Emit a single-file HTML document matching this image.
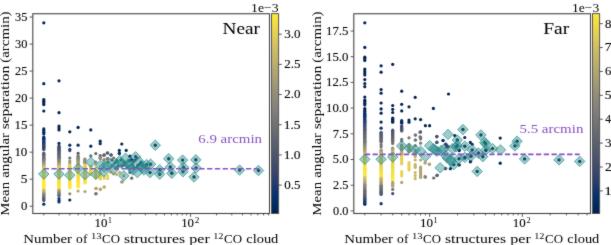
<!DOCTYPE html>
<html><head><meta charset="utf-8"><style>html,body{margin:0;padding:0;background:#fff;width:611px;height:245px;overflow:hidden}svg{display:block;will-change:transform}</style></head>
<body>
<svg width="611" height="245" viewBox="0 0 611 245" font-family="&apos;Liberation Serif&apos;, serif" style="font-kerning:none">
<rect width="611" height="245" fill="#fff"/>
<defs><filter id="bl" filterUnits="userSpaceOnUse" x="0" y="0" width="611" height="245" color-interpolation-filters="sRGB"><feConvolveMatrix order="3" kernelMatrix="1 2 1 2 24 2 1 2 1" edgeMode="duplicate"/></filter></defs>
<g filter="url(#bl)">
<g>
<circle cx="43.8" cy="22.8" r="1.6" fill="#00224e"/>
<circle cx="43.8" cy="83.7" r="1.6" fill="#00224e"/>
<circle cx="43.8" cy="111.0" r="1.6" fill="#00224e"/>
<circle cx="43.8" cy="99.5" r="1.6" fill="#00224e"/>
<circle cx="43.8" cy="101.2" r="1.6" fill="#00224e"/>
<circle cx="43.8" cy="102.9" r="1.6" fill="#00224e"/>
<circle cx="43.8" cy="104.6" r="1.6" fill="#00224e"/>
<circle cx="43.8" cy="128.9" r="1.6" fill="#002656"/>
<circle cx="43.8" cy="130.6" r="1.6" fill="#002656"/>
<circle cx="43.8" cy="132.3" r="1.6" fill="#002656"/>
<circle cx="43.8" cy="134.0" r="1.6" fill="#002656"/>
<circle cx="43.8" cy="204.2" r="1.6" fill="#002d68"/>
<circle cx="59.0" cy="80.8" r="1.6" fill="#00224e"/>
<circle cx="59.0" cy="112.7" r="1.6" fill="#00224e"/>
<circle cx="59.0" cy="126.0" r="1.6" fill="#00224e"/>
<circle cx="59.0" cy="128.0" r="1.6" fill="#00224e"/>
<circle cx="59.0" cy="130.0" r="1.6" fill="#00224e"/>
<circle cx="59.0" cy="143.4" r="1.6" fill="#002b62"/>
<circle cx="59.0" cy="198.5" r="1.6" fill="#083370"/>
<circle cx="59.0" cy="200.5" r="1.6" fill="#083370"/>
<circle cx="59.0" cy="202.0" r="1.6" fill="#083370"/>
<circle cx="69.8" cy="131.8" r="1.6" fill="#00224e"/>
<circle cx="69.8" cy="145.2" r="1.6" fill="#002b62"/>
<circle cx="69.8" cy="149.3" r="1.6" fill="#35456c"/>
<circle cx="69.8" cy="150.6" r="1.6" fill="#35456c"/>
<circle cx="69.8" cy="158.0" r="1.6" fill="#6b6d72"/>
<circle cx="69.8" cy="161.0" r="1.6" fill="#999277"/>
<circle cx="69.8" cy="163.0" r="1.6" fill="#999277"/>
<circle cx="69.8" cy="193.8" r="1.6" fill="#948e77"/>
<circle cx="69.8" cy="200.0" r="1.6" fill="#002b62"/>
<circle cx="78.1" cy="127.4" r="1.6" fill="#00224e"/>
<circle cx="78.1" cy="145.2" r="1.6" fill="#002b62"/>
<circle cx="78.1" cy="153.3" r="1.6" fill="#4f576c"/>
<circle cx="78.1" cy="191.0" r="1.6" fill="#aea371"/>
<circle cx="85.0" cy="159.2" r="1.6" fill="#888578"/>
<circle cx="85.0" cy="161.0" r="1.6" fill="#9e9676"/>
<circle cx="85.0" cy="163.0" r="1.6" fill="#9e9676"/>
<circle cx="85.0" cy="191.5" r="1.6" fill="#aea371"/>
<circle cx="90.8" cy="129.9" r="1.6" fill="#00224e"/>
<circle cx="90.8" cy="146.2" r="1.6" fill="#002b62"/>
<circle cx="90.8" cy="155.9" r="1.6" fill="#666970"/>
<circle cx="95.8" cy="153.6" r="1.6" fill="#666970"/>
<circle cx="95.8" cy="162.0" r="1.6" fill="#727274"/>
<circle cx="95.8" cy="163.1" r="1.6" fill="#aea371"/>
<circle cx="95.8" cy="188.4" r="1.6" fill="#bcae6c"/>
<circle cx="95.8" cy="193.8" r="1.6" fill="#727274"/>
<circle cx="100.2" cy="141.2" r="1.6" fill="#002b62"/>
<circle cx="100.2" cy="143.7" r="1.6" fill="#002b62"/>
<circle cx="100.2" cy="155.5" r="1.6" fill="#666970"/>
<circle cx="100.2" cy="157.5" r="1.6" fill="#666970"/>
<circle cx="100.2" cy="158.4" r="1.6" fill="#727274"/>
<circle cx="100.2" cy="189.4" r="1.6" fill="#b4a76f"/>
<circle cx="104.2" cy="154.9" r="1.6" fill="#666970"/>
<circle cx="104.2" cy="159.5" r="1.6" fill="#7d7c78"/>
<circle cx="104.2" cy="160.3" r="1.6" fill="#948e77"/>
<circle cx="104.2" cy="176.5" r="1.6" fill="#e5cf52"/>
<circle cx="104.2" cy="178.2" r="1.6" fill="#e5cf52"/>
<circle cx="104.2" cy="187.2" r="1.6" fill="#c3b369"/>
<circle cx="107.7" cy="153.0" r="1.6" fill="#5b606e"/>
<circle cx="107.7" cy="158.6" r="1.6" fill="#7d7c78"/>
<circle cx="107.7" cy="175.8" r="1.6" fill="#e5cf52"/>
<circle cx="107.7" cy="178.5" r="1.6" fill="#e5cf52"/>
<circle cx="111.0" cy="155.0" r="1.6" fill="#4f576c"/>
<circle cx="111.0" cy="172.2" r="1.6" fill="#cebc63"/>
<circle cx="121.8" cy="144.0" r="1.6" fill="#00224e"/>
<circle cx="119.3" cy="150.4" r="1.6" fill="#002859"/>
<circle cx="126.2" cy="150.4" r="1.6" fill="#002859"/>
<circle cx="119.3" cy="153.7" r="1.6" fill="#434e6c"/>
<circle cx="104.4" cy="154.8" r="1.6" fill="#666970"/>
<circle cx="111.2" cy="154.8" r="1.6" fill="#666970"/>
<circle cx="119.3" cy="153.5" r="1.6" fill="#4f576c"/>
<circle cx="129.9" cy="156.7" r="1.6" fill="#666970"/>
<circle cx="116.6" cy="174.3" r="1.6" fill="#bcae6c"/>
<circle cx="119.6" cy="172.4" r="1.6" fill="#bcae6c"/>
<circle cx="121.7" cy="182.0" r="1.6" fill="#a19975"/>
<circle cx="122.2" cy="181.8" r="1.6" fill="#a19975"/>
<circle cx="96.2" cy="188.4" r="1.6" fill="#aea371"/>
<circle cx="100.4" cy="189.1" r="1.6" fill="#b4a76f"/>
<circle cx="104.2" cy="186.8" r="1.6" fill="#bcae6c"/>
<circle cx="131.7" cy="178.2" r="1.6" fill="#666970"/>
<circle cx="96.0" cy="193.7" r="1.6" fill="#727274"/>
<circle cx="129.9" cy="172.4" r="1.6" fill="#666970"/>
<circle cx="84.5" cy="159.9" r="1.6" fill="#948e77"/>
<circle cx="84.5" cy="162.3" r="1.6" fill="#999277"/>
<circle cx="95.6" cy="163.1" r="1.6" fill="#bcae6c"/>
<circle cx="107.9" cy="158.6" r="1.6" fill="#888578"/>
<circle cx="113.7" cy="158.0" r="1.6" fill="#727274"/>
<circle cx="116.5" cy="160.0" r="1.6" fill="#727274"/>
<circle cx="135.6" cy="156.6" r="1.6" fill="#00224e"/>
<circle cx="129.9" cy="156.2" r="1.6" fill="#002b62"/>
<circle cx="129.9" cy="160.3" r="1.6" fill="#083370"/>
<circle cx="131.9" cy="159.5" r="1.6" fill="#083370"/>
<circle cx="119.4" cy="153.3" r="1.6" fill="#083370"/>
<circle cx="107.4" cy="152.9" r="1.6" fill="#4f576c"/>
<circle cx="111.0" cy="155.0" r="1.6" fill="#4f576c"/>
<circle cx="103.7" cy="155.4" r="1.6" fill="#666970"/>
<circle cx="100.4" cy="158.2" r="1.6" fill="#948e77"/>
<circle cx="103.7" cy="160.3" r="1.6" fill="#948e77"/>
<circle cx="107.4" cy="158.6" r="1.6" fill="#7d7c78"/>
<circle cx="138.0" cy="165.0" r="1.6" fill="#083370"/>
<circle cx="141.0" cy="162.0" r="1.6" fill="#083370"/>
<circle cx="124.0" cy="165.0" r="1.6" fill="#35456c"/>
<circle cx="116.0" cy="168.0" r="1.6" fill="#4f576c"/>
<circle cx="112.0" cy="166.0" r="1.6" fill="#666970"/>
<circle cx="108.0" cy="162.0" r="1.6" fill="#4f576c"/>
<circle cx="112.0" cy="160.0" r="1.6" fill="#434e6c"/>
<circle cx="115.0" cy="163.0" r="1.6" fill="#4f576c"/>
<circle cx="118.0" cy="166.0" r="1.6" fill="#434e6c"/>
<circle cx="121.0" cy="160.0" r="1.6" fill="#35456c"/>
<circle cx="124.0" cy="162.0" r="1.6" fill="#35456c"/>
<circle cx="127.0" cy="167.0" r="1.6" fill="#434e6c"/>
<circle cx="129.0" cy="161.0" r="1.6" fill="#243c6e"/>
<circle cx="132.0" cy="165.0" r="1.6" fill="#35456c"/>
<circle cx="135.0" cy="160.0" r="1.6" fill="#243c6e"/>
<circle cx="137.0" cy="167.0" r="1.6" fill="#35456c"/>
<circle cx="140.0" cy="164.0" r="1.6" fill="#243c6e"/>
<circle cx="143.0" cy="166.0" r="1.6" fill="#35456c"/>
<circle cx="146.0" cy="168.0" r="1.6" fill="#35456c"/>
<circle cx="117.0" cy="161.0" r="1.6" fill="#4f576c"/>
<circle cx="122.0" cy="166.0" r="1.6" fill="#4f576c"/>
<circle cx="126.0" cy="163.0" r="1.6" fill="#35456c"/>
<circle cx="134.0" cy="168.0" r="1.6" fill="#434e6c"/>
<circle cx="110.7" cy="172.0" r="1.6" fill="#c8b866"/>
<circle cx="113.7" cy="174.0" r="1.6" fill="#c8b866"/>
<circle cx="123.8" cy="175.8" r="1.6" fill="#aea371"/>
<circle cx="128.0" cy="166.0" r="1.6" fill="#727274"/>
<circle cx="133.5" cy="162.0" r="1.6" fill="#4f576c"/>
<circle cx="136.8" cy="158.0" r="1.6" fill="#35456c"/>
<circle cx="43.8" cy="137.0" r="1.6" fill="#002d68"/>
<circle cx="43.8" cy="137.8" r="1.6" fill="#002e6c"/>
<circle cx="43.8" cy="138.6" r="1.6" fill="#00306f"/>
<circle cx="43.8" cy="139.3" r="1.6" fill="#003171"/>
<circle cx="43.8" cy="140.1" r="1.6" fill="#053371"/>
<circle cx="43.8" cy="140.9" r="1.6" fill="#0c3470"/>
<circle cx="43.8" cy="141.7" r="1.6" fill="#123570"/>
<circle cx="43.8" cy="142.5" r="1.6" fill="#18376f"/>
<circle cx="43.8" cy="143.2" r="1.6" fill="#1c396f"/>
<circle cx="43.8" cy="144.0" r="1.6" fill="#203a6f"/>
<circle cx="43.8" cy="144.8" r="1.6" fill="#233c6e"/>
<circle cx="43.8" cy="145.6" r="1.6" fill="#273e6e"/>
<circle cx="43.8" cy="146.4" r="1.6" fill="#2a3f6d"/>
<circle cx="43.8" cy="147.2" r="1.6" fill="#2d416d"/>
<circle cx="43.8" cy="147.9" r="1.6" fill="#2f426d"/>
<circle cx="43.8" cy="148.7" r="1.6" fill="#32436d"/>
<circle cx="43.8" cy="149.5" r="1.6" fill="#35456c"/>
<circle cx="43.8" cy="153.0" r="1.6" fill="#4f576c"/>
<circle cx="43.8" cy="153.8" r="1.6" fill="#545a6d"/>
<circle cx="43.8" cy="154.6" r="1.6" fill="#575d6d"/>
<circle cx="43.8" cy="155.3" r="1.6" fill="#5b606e"/>
<circle cx="43.8" cy="156.1" r="1.6" fill="#5e636f"/>
<circle cx="43.8" cy="156.9" r="1.6" fill="#636670"/>
<circle cx="43.8" cy="157.7" r="1.6" fill="#666970"/>
<circle cx="43.8" cy="158.4" r="1.6" fill="#6a6c71"/>
<circle cx="43.8" cy="159.2" r="1.6" fill="#6d6f72"/>
<circle cx="43.8" cy="160.0" r="1.6" fill="#727274"/>
<circle cx="43.8" cy="160.0" r="1.6" fill="#727274"/>
<circle cx="43.8" cy="160.8" r="1.6" fill="#797977"/>
<circle cx="43.8" cy="161.6" r="1.6" fill="#817f78"/>
<circle cx="43.8" cy="162.4" r="1.6" fill="#8a8678"/>
<circle cx="43.8" cy="163.2" r="1.6" fill="#928d78"/>
<circle cx="43.8" cy="164.0" r="1.6" fill="#9b9476"/>
<circle cx="43.8" cy="164.8" r="1.6" fill="#a39a74"/>
<circle cx="43.8" cy="165.6" r="1.6" fill="#aca172"/>
<circle cx="43.8" cy="166.4" r="1.6" fill="#b6a96f"/>
<circle cx="43.8" cy="167.2" r="1.6" fill="#bfb06b"/>
<circle cx="43.8" cy="168.0" r="1.6" fill="#c8b866"/>
<circle cx="43.8" cy="168.0" r="1.6" fill="#e5cf52"/>
<circle cx="43.8" cy="168.8" r="1.6" fill="#e7d150"/>
<circle cx="43.8" cy="169.7" r="1.6" fill="#e9d34e"/>
<circle cx="43.8" cy="170.5" r="1.6" fill="#ebd44b"/>
<circle cx="43.8" cy="171.3" r="1.6" fill="#eed649"/>
<circle cx="43.8" cy="172.2" r="1.6" fill="#f1d945"/>
<circle cx="43.8" cy="173.0" r="1.6" fill="#f3db42"/>
<circle cx="43.8" cy="173.8" r="1.6" fill="#f6dd3f"/>
<circle cx="43.8" cy="174.7" r="1.6" fill="#f8df3c"/>
<circle cx="43.8" cy="175.5" r="1.6" fill="#fbe138"/>
<circle cx="43.8" cy="176.3" r="1.6" fill="#fde334"/>
<circle cx="43.8" cy="177.2" r="1.6" fill="#fee535"/>
<circle cx="43.8" cy="178.0" r="1.6" fill="#fee838"/>
<circle cx="43.8" cy="178.0" r="1.6" fill="#fee838"/>
<circle cx="43.8" cy="178.8" r="1.6" fill="#fee838"/>
<circle cx="43.8" cy="179.6" r="1.6" fill="#fee838"/>
<circle cx="43.8" cy="180.4" r="1.6" fill="#fee838"/>
<circle cx="43.8" cy="181.2" r="1.6" fill="#fee838"/>
<circle cx="43.8" cy="182.0" r="1.6" fill="#fee838"/>
<circle cx="43.8" cy="182.8" r="1.6" fill="#fee838"/>
<circle cx="43.8" cy="183.6" r="1.6" fill="#fee838"/>
<circle cx="43.8" cy="184.4" r="1.6" fill="#fee838"/>
<circle cx="43.8" cy="185.2" r="1.6" fill="#fee838"/>
<circle cx="43.8" cy="186.0" r="1.6" fill="#fee838"/>
<circle cx="43.8" cy="186.8" r="1.6" fill="#fee838"/>
<circle cx="43.8" cy="187.6" r="1.6" fill="#fee838"/>
<circle cx="43.8" cy="188.4" r="1.6" fill="#fee838"/>
<circle cx="43.8" cy="189.2" r="1.6" fill="#fee838"/>
<circle cx="43.8" cy="190.0" r="1.6" fill="#fee838"/>
<circle cx="43.8" cy="190.0" r="1.6" fill="#d6c35d"/>
<circle cx="43.8" cy="190.8" r="1.6" fill="#ccba64"/>
<circle cx="43.8" cy="191.6" r="1.6" fill="#c1b26a"/>
<circle cx="43.8" cy="192.4" r="1.6" fill="#b6a96f"/>
<circle cx="43.8" cy="193.2" r="1.6" fill="#aba072"/>
<circle cx="43.8" cy="194.0" r="1.6" fill="#a19975"/>
<circle cx="43.8" cy="194.0" r="1.6" fill="#948e77"/>
<circle cx="43.8" cy="194.8" r="1.6" fill="#8c8878"/>
<circle cx="43.8" cy="195.6" r="1.6" fill="#828079"/>
<circle cx="43.8" cy="196.4" r="1.6" fill="#797977"/>
<circle cx="43.8" cy="197.2" r="1.6" fill="#727274"/>
<circle cx="43.8" cy="198.1" r="1.6" fill="#696b71"/>
<circle cx="43.8" cy="198.9" r="1.6" fill="#61656f"/>
<circle cx="43.8" cy="199.7" r="1.6" fill="#585e6d"/>
<circle cx="43.8" cy="200.5" r="1.6" fill="#4f576c"/>
<circle cx="59.0" cy="146.0" r="1.6" fill="#35456c"/>
<circle cx="59.0" cy="146.8" r="1.6" fill="#39486c"/>
<circle cx="59.0" cy="147.6" r="1.6" fill="#3d4a6c"/>
<circle cx="59.0" cy="148.4" r="1.6" fill="#404c6c"/>
<circle cx="59.0" cy="149.2" r="1.6" fill="#434e6c"/>
<circle cx="59.0" cy="150.0" r="1.6" fill="#47516c"/>
<circle cx="59.0" cy="150.8" r="1.6" fill="#4a536c"/>
<circle cx="59.0" cy="151.6" r="1.6" fill="#4e566c"/>
<circle cx="59.0" cy="152.4" r="1.6" fill="#51586d"/>
<circle cx="59.0" cy="153.2" r="1.6" fill="#545a6d"/>
<circle cx="59.0" cy="154.0" r="1.6" fill="#575d6d"/>
<circle cx="59.0" cy="154.8" r="1.6" fill="#5a5f6e"/>
<circle cx="59.0" cy="155.6" r="1.6" fill="#5e626e"/>
<circle cx="59.0" cy="156.4" r="1.6" fill="#60646f"/>
<circle cx="59.0" cy="157.2" r="1.6" fill="#636670"/>
<circle cx="59.0" cy="158.0" r="1.6" fill="#666970"/>
<circle cx="59.0" cy="158.0" r="1.6" fill="#6b6d72"/>
<circle cx="59.0" cy="158.8" r="1.6" fill="#727274"/>
<circle cx="59.0" cy="159.6" r="1.6" fill="#777777"/>
<circle cx="59.0" cy="160.4" r="1.6" fill="#7e7d78"/>
<circle cx="59.0" cy="161.2" r="1.6" fill="#868379"/>
<circle cx="59.0" cy="162.0" r="1.6" fill="#8d8878"/>
<circle cx="59.0" cy="162.8" r="1.6" fill="#948e77"/>
<circle cx="59.0" cy="163.6" r="1.6" fill="#9c9576"/>
<circle cx="59.0" cy="164.4" r="1.6" fill="#a39a74"/>
<circle cx="59.0" cy="165.2" r="1.6" fill="#aba072"/>
<circle cx="59.0" cy="166.0" r="1.6" fill="#b4a76f"/>
<circle cx="59.0" cy="166.0" r="1.6" fill="#d6c35d"/>
<circle cx="59.0" cy="166.8" r="1.6" fill="#d7c45c"/>
<circle cx="59.0" cy="167.6" r="1.6" fill="#dac65b"/>
<circle cx="59.0" cy="168.4" r="1.6" fill="#dbc75a"/>
<circle cx="59.0" cy="169.2" r="1.6" fill="#dcc859"/>
<circle cx="59.0" cy="170.0" r="1.6" fill="#dec958"/>
<circle cx="59.0" cy="170.8" r="1.6" fill="#dfca57"/>
<circle cx="59.0" cy="171.6" r="1.6" fill="#e0cb56"/>
<circle cx="59.0" cy="172.4" r="1.6" fill="#e1cc55"/>
<circle cx="59.0" cy="173.2" r="1.6" fill="#e4ce53"/>
<circle cx="59.0" cy="174.0" r="1.6" fill="#e5cf52"/>
<circle cx="59.0" cy="174.8" r="1.6" fill="#e6d051"/>
<circle cx="59.0" cy="175.6" r="1.6" fill="#e7d150"/>
<circle cx="59.0" cy="176.4" r="1.6" fill="#e9d34e"/>
<circle cx="59.0" cy="177.2" r="1.6" fill="#ead34c"/>
<circle cx="59.0" cy="178.0" r="1.6" fill="#ebd44b"/>
<circle cx="59.0" cy="178.8" r="1.6" fill="#eed649"/>
<circle cx="59.0" cy="179.6" r="1.6" fill="#efd748"/>
<circle cx="59.0" cy="180.4" r="1.6" fill="#f0d846"/>
<circle cx="59.0" cy="181.2" r="1.6" fill="#f1d945"/>
<circle cx="59.0" cy="182.0" r="1.6" fill="#f3db42"/>
<circle cx="59.0" cy="182.8" r="1.6" fill="#f5dc41"/>
<circle cx="59.0" cy="183.6" r="1.6" fill="#f6dd3f"/>
<circle cx="59.0" cy="184.4" r="1.6" fill="#f8df3c"/>
<circle cx="59.0" cy="185.2" r="1.6" fill="#f9e03a"/>
<circle cx="59.0" cy="186.0" r="1.6" fill="#fbe138"/>
<circle cx="59.0" cy="186.8" r="1.6" fill="#fce236"/>
<circle cx="59.0" cy="187.6" r="1.6" fill="#fee434"/>
<circle cx="59.0" cy="188.4" r="1.6" fill="#fee535"/>
<circle cx="59.0" cy="189.2" r="1.6" fill="#fee636"/>
<circle cx="59.0" cy="190.0" r="1.6" fill="#fee838"/>
<circle cx="59.0" cy="190.0" r="1.6" fill="#bcae6c"/>
<circle cx="59.0" cy="190.8" r="1.6" fill="#afa471"/>
<circle cx="59.0" cy="191.5" r="1.6" fill="#a49b74"/>
<circle cx="59.0" cy="192.2" r="1.6" fill="#999277"/>
<circle cx="59.0" cy="193.0" r="1.6" fill="#8f8a78"/>
<circle cx="59.0" cy="193.8" r="1.6" fill="#848279"/>
<circle cx="59.0" cy="194.5" r="1.6" fill="#797977"/>
<circle cx="59.0" cy="195.2" r="1.6" fill="#707173"/>
<circle cx="59.0" cy="196.0" r="1.6" fill="#666970"/>
<circle cx="69.8" cy="165.0" r="1.6" fill="#dfca57"/>
<circle cx="69.8" cy="165.8" r="1.6" fill="#e0cb56"/>
<circle cx="69.8" cy="166.6" r="1.6" fill="#e1cc55"/>
<circle cx="69.8" cy="167.4" r="1.6" fill="#e2cd54"/>
<circle cx="69.8" cy="168.2" r="1.6" fill="#e4ce53"/>
<circle cx="69.8" cy="169.0" r="1.6" fill="#e5cf52"/>
<circle cx="69.8" cy="169.8" r="1.6" fill="#e6d051"/>
<circle cx="69.8" cy="170.6" r="1.6" fill="#e7d150"/>
<circle cx="69.8" cy="171.3" r="1.6" fill="#e8d24f"/>
<circle cx="69.8" cy="172.1" r="1.6" fill="#e9d34e"/>
<circle cx="69.8" cy="172.9" r="1.6" fill="#ead34c"/>
<circle cx="69.8" cy="173.7" r="1.6" fill="#ebd44b"/>
<circle cx="69.8" cy="174.5" r="1.6" fill="#edd54a"/>
<circle cx="69.8" cy="175.3" r="1.6" fill="#efd748"/>
<circle cx="69.8" cy="176.1" r="1.6" fill="#f0d846"/>
<circle cx="69.8" cy="176.9" r="1.6" fill="#f1d945"/>
<circle cx="69.8" cy="177.7" r="1.6" fill="#f2da44"/>
<circle cx="69.8" cy="178.5" r="1.6" fill="#f3db42"/>
<circle cx="69.8" cy="179.3" r="1.6" fill="#f5dc41"/>
<circle cx="69.8" cy="180.1" r="1.6" fill="#f6dd3f"/>
<circle cx="69.8" cy="180.9" r="1.6" fill="#f7de3e"/>
<circle cx="69.8" cy="181.7" r="1.6" fill="#f8df3c"/>
<circle cx="69.8" cy="182.4" r="1.6" fill="#f9e03a"/>
<circle cx="69.8" cy="183.2" r="1.6" fill="#fbe138"/>
<circle cx="69.8" cy="184.0" r="1.6" fill="#fce236"/>
<circle cx="69.8" cy="184.8" r="1.6" fill="#fde334"/>
<circle cx="69.8" cy="185.6" r="1.6" fill="#fee434"/>
<circle cx="69.8" cy="186.4" r="1.6" fill="#fee535"/>
<circle cx="69.8" cy="187.2" r="1.6" fill="#fee636"/>
<circle cx="69.8" cy="188.0" r="1.6" fill="#fee838"/>
<circle cx="78.1" cy="156.0" r="1.6" fill="#727274"/>
<circle cx="78.1" cy="156.8" r="1.6" fill="#777776"/>
<circle cx="78.1" cy="157.7" r="1.6" fill="#7d7c78"/>
<circle cx="78.1" cy="158.5" r="1.6" fill="#828079"/>
<circle cx="78.1" cy="159.3" r="1.6" fill="#888578"/>
<circle cx="78.1" cy="160.2" r="1.6" fill="#8f8a78"/>
<circle cx="78.1" cy="161.0" r="1.6" fill="#948e77"/>
<circle cx="78.1" cy="161.8" r="1.6" fill="#9b9476"/>
<circle cx="78.1" cy="162.7" r="1.6" fill="#a19975"/>
<circle cx="78.1" cy="163.5" r="1.6" fill="#a79d73"/>
<circle cx="78.1" cy="164.3" r="1.6" fill="#aea371"/>
<circle cx="78.1" cy="165.2" r="1.6" fill="#b5a86f"/>
<circle cx="78.1" cy="166.0" r="1.6" fill="#bcae6c"/>
<circle cx="78.1" cy="166.0" r="1.6" fill="#e5cf52"/>
<circle cx="78.1" cy="166.8" r="1.6" fill="#e6d051"/>
<circle cx="78.1" cy="167.6" r="1.6" fill="#e7d150"/>
<circle cx="78.1" cy="168.4" r="1.6" fill="#e8d24f"/>
<circle cx="78.1" cy="169.2" r="1.6" fill="#e9d34e"/>
<circle cx="78.1" cy="170.0" r="1.6" fill="#ead34c"/>
<circle cx="78.1" cy="170.8" r="1.6" fill="#ebd44b"/>
<circle cx="78.1" cy="171.7" r="1.6" fill="#edd54a"/>
<circle cx="78.1" cy="172.5" r="1.6" fill="#eed649"/>
<circle cx="78.1" cy="173.3" r="1.6" fill="#efd748"/>
<circle cx="78.1" cy="174.1" r="1.6" fill="#f0d846"/>
<circle cx="78.1" cy="174.9" r="1.6" fill="#f1d945"/>
<circle cx="78.1" cy="175.7" r="1.6" fill="#f2da44"/>
<circle cx="78.1" cy="176.5" r="1.6" fill="#f3db42"/>
<circle cx="78.1" cy="177.3" r="1.6" fill="#f5dc41"/>
<circle cx="78.1" cy="178.1" r="1.6" fill="#f6dd3f"/>
<circle cx="78.1" cy="178.9" r="1.6" fill="#f7de3e"/>
<circle cx="78.1" cy="179.7" r="1.6" fill="#f8df3c"/>
<circle cx="78.1" cy="180.5" r="1.6" fill="#f9e03a"/>
<circle cx="78.1" cy="181.3" r="1.6" fill="#fbe138"/>
<circle cx="78.1" cy="182.2" r="1.6" fill="#fce236"/>
<circle cx="78.1" cy="183.0" r="1.6" fill="#fde334"/>
<circle cx="78.1" cy="183.8" r="1.6" fill="#fee434"/>
<circle cx="78.1" cy="184.6" r="1.6" fill="#fee535"/>
<circle cx="78.1" cy="185.4" r="1.6" fill="#fee636"/>
<circle cx="78.1" cy="186.2" r="1.6" fill="#fee838"/>
<circle cx="78.1" cy="187.0" r="1.6" fill="#fee838"/>
<circle cx="85.0" cy="165.0" r="1.6" fill="#dfca57"/>
<circle cx="85.0" cy="165.8" r="1.6" fill="#e0cb56"/>
<circle cx="85.0" cy="166.6" r="1.6" fill="#e1cc55"/>
<circle cx="85.0" cy="167.5" r="1.6" fill="#e2cd54"/>
<circle cx="85.0" cy="168.3" r="1.6" fill="#e4ce53"/>
<circle cx="85.0" cy="169.1" r="1.6" fill="#e6d051"/>
<circle cx="85.0" cy="169.9" r="1.6" fill="#e7d150"/>
<circle cx="85.0" cy="170.7" r="1.6" fill="#e8d24f"/>
<circle cx="85.0" cy="171.5" r="1.6" fill="#e9d34e"/>
<circle cx="85.0" cy="172.4" r="1.6" fill="#ead34c"/>
<circle cx="85.0" cy="173.2" r="1.6" fill="#ebd44b"/>
<circle cx="85.0" cy="174.0" r="1.6" fill="#eed649"/>
<circle cx="85.0" cy="174.8" r="1.6" fill="#efd748"/>
<circle cx="85.0" cy="175.6" r="1.6" fill="#f0d846"/>
<circle cx="85.0" cy="176.5" r="1.6" fill="#f1d945"/>
<circle cx="85.0" cy="177.3" r="1.6" fill="#f2da44"/>
<circle cx="85.0" cy="178.1" r="1.6" fill="#f3db42"/>
<circle cx="85.0" cy="178.9" r="1.6" fill="#f6dd3f"/>
<circle cx="85.0" cy="179.7" r="1.6" fill="#f7de3e"/>
<circle cx="85.0" cy="180.5" r="1.6" fill="#f8df3c"/>
<circle cx="85.0" cy="181.4" r="1.6" fill="#f9e03a"/>
<circle cx="85.0" cy="182.2" r="1.6" fill="#fbe138"/>
<circle cx="85.0" cy="183.0" r="1.6" fill="#fce236"/>
<circle cx="90.8" cy="166.0" r="1.6" fill="#e5cf52"/>
<circle cx="90.8" cy="166.8" r="1.6" fill="#e5cf52"/>
<circle cx="90.8" cy="167.5" r="1.6" fill="#e5cf52"/>
<circle cx="90.8" cy="168.3" r="1.6" fill="#e5cf52"/>
<circle cx="90.8" cy="169.1" r="1.6" fill="#e5cf52"/>
<circle cx="90.8" cy="169.9" r="1.6" fill="#e5cf52"/>
<circle cx="90.8" cy="170.6" r="1.6" fill="#e5cf52"/>
<circle cx="90.8" cy="171.4" r="1.6" fill="#e5cf52"/>
<circle cx="90.8" cy="172.2" r="1.6" fill="#e5cf52"/>
<circle cx="90.8" cy="173.0" r="1.6" fill="#e5cf52"/>
<circle cx="90.8" cy="173.7" r="1.6" fill="#e5cf52"/>
<circle cx="90.8" cy="174.5" r="1.6" fill="#e5cf52"/>
<circle cx="95.8" cy="168.0" r="1.6" fill="#e5cf52"/>
<circle cx="95.8" cy="168.8" r="1.6" fill="#e5cf52"/>
<circle cx="95.8" cy="169.7" r="1.6" fill="#e5cf52"/>
<circle cx="95.8" cy="170.5" r="1.6" fill="#e5cf52"/>
<circle cx="95.8" cy="171.3" r="1.6" fill="#e5cf52"/>
<circle cx="95.8" cy="172.2" r="1.6" fill="#e5cf52"/>
<circle cx="95.8" cy="173.0" r="1.6" fill="#e5cf52"/>
<circle cx="95.8" cy="173.8" r="1.6" fill="#e5cf52"/>
<circle cx="95.8" cy="174.7" r="1.6" fill="#e5cf52"/>
<circle cx="95.8" cy="175.5" r="1.6" fill="#e5cf52"/>
<circle cx="95.8" cy="176.3" r="1.6" fill="#e5cf52"/>
<circle cx="95.8" cy="177.2" r="1.6" fill="#e5cf52"/>
<circle cx="95.8" cy="178.0" r="1.6" fill="#e5cf52"/>
<circle cx="100.2" cy="172.0" r="1.6" fill="#e5cf52"/>
<circle cx="100.2" cy="172.8" r="1.6" fill="#e5cf52"/>
<circle cx="100.2" cy="173.6" r="1.6" fill="#e5cf52"/>
<circle cx="100.2" cy="174.3" r="1.6" fill="#e5cf52"/>
<circle cx="100.2" cy="175.1" r="1.6" fill="#e5cf52"/>
<circle cx="100.2" cy="175.9" r="1.6" fill="#e5cf52"/>
<circle cx="100.2" cy="176.7" r="1.6" fill="#e5cf52"/>
<circle cx="100.2" cy="177.4" r="1.6" fill="#e5cf52"/>
<circle cx="100.2" cy="178.2" r="1.6" fill="#e5cf52"/>
<circle cx="100.2" cy="179.0" r="1.6" fill="#e5cf52"/>
<circle cx="146.6" cy="164.6" r="1.7" fill="#001a40"/>
<circle cx="150.0" cy="172.6" r="1.7" fill="#001a40"/>
<circle cx="150.6" cy="164.2" r="1.7" fill="#001a40"/>
<circle cx="155.3" cy="145.2" r="1.7" fill="#001a40"/>
<circle cx="159.7" cy="169.8" r="1.7" fill="#001a40"/>
<circle cx="159.7" cy="174.2" r="1.7" fill="#001a40"/>
<circle cx="168.7" cy="158.7" r="1.7" fill="#001a40"/>
<circle cx="170.3" cy="167.0" r="1.7" fill="#001a40"/>
<circle cx="171.8" cy="173.3" r="1.7" fill="#001a40"/>
<circle cx="182.6" cy="160.1" r="1.7" fill="#001a40"/>
<circle cx="183.5" cy="167.3" r="1.7" fill="#001a40"/>
<circle cx="183.0" cy="171.7" r="1.7" fill="#001a40"/>
<circle cx="195.8" cy="159.8" r="1.7" fill="#001a40"/>
<circle cx="196.1" cy="167.9" r="1.7" fill="#001a40"/>
<circle cx="194.0" cy="177.0" r="1.7" fill="#001a40"/>
<circle cx="239.6" cy="170.1" r="1.7" fill="#001a40"/>
<circle cx="258.5" cy="170.5" r="1.7" fill="#001a40"/>
</g>
<path d="M43.8 168.8 L49.0 174.0 L43.8 179.2 L38.6 174.0Z" fill="#268c8c" fill-opacity="0.44" stroke="#268c8c" stroke-opacity="0.7" stroke-width="1.0"/>
<path d="M59.0 168.8 L64.2 174.0 L59.0 179.2 L53.8 174.0Z" fill="#268c8c" fill-opacity="0.44" stroke="#268c8c" stroke-opacity="0.7" stroke-width="1.0"/>
<path d="M69.8 170.0 L75.0 175.2 L69.8 180.4 L64.6 175.2Z" fill="#268c8c" fill-opacity="0.44" stroke="#268c8c" stroke-opacity="0.7" stroke-width="1.0"/>
<path d="M78.1 163.3 L83.3 168.5 L78.1 173.7 L72.9 168.5Z" fill="#268c8c" fill-opacity="0.44" stroke="#268c8c" stroke-opacity="0.7" stroke-width="1.0"/>
<path d="M85.0 169.4 L90.2 174.6 L85.0 179.8 L79.8 174.6Z" fill="#268c8c" fill-opacity="0.44" stroke="#268c8c" stroke-opacity="0.7" stroke-width="1.0"/>
<path d="M90.8 157.0 L96.0 162.2 L90.8 167.4 L85.6 162.2Z" fill="#268c8c" fill-opacity="0.44" stroke="#268c8c" stroke-opacity="0.7" stroke-width="1.0"/>
<path d="M95.8 169.1 L101.0 174.3 L95.8 179.5 L90.6 174.3Z" fill="#268c8c" fill-opacity="0.44" stroke="#268c8c" stroke-opacity="0.7" stroke-width="1.0"/>
<path d="M100.2 160.3 L105.4 165.5 L100.2 170.7 L95.0 165.5Z" fill="#268c8c" fill-opacity="0.44" stroke="#268c8c" stroke-opacity="0.7" stroke-width="1.0"/>
<path d="M103.8 166.3 L109.0 171.5 L103.8 176.7 L98.6 171.5Z" fill="#268c8c" fill-opacity="0.44" stroke="#268c8c" stroke-opacity="0.7" stroke-width="1.0"/>
<path d="M104.1 161.8 L109.3 167.0 L104.1 172.2 L98.9 167.0Z" fill="#268c8c" fill-opacity="0.44" stroke="#268c8c" stroke-opacity="0.7" stroke-width="1.0"/>
<path d="M107.2 160.3 L112.4 165.5 L107.2 170.7 L102.0 165.5Z" fill="#268c8c" fill-opacity="0.44" stroke="#268c8c" stroke-opacity="0.7" stroke-width="1.0"/>
<path d="M110.7 158.0 L115.9 163.2 L110.7 168.4 L105.5 163.2Z" fill="#268c8c" fill-opacity="0.44" stroke="#268c8c" stroke-opacity="0.7" stroke-width="1.0"/>
<path d="M113.5 164.3 L118.7 169.5 L113.5 174.7 L108.3 169.5Z" fill="#268c8c" fill-opacity="0.44" stroke="#268c8c" stroke-opacity="0.7" stroke-width="1.0"/>
<path d="M116.5 159.8 L121.7 165.0 L116.5 170.2 L111.3 165.0Z" fill="#268c8c" fill-opacity="0.44" stroke="#268c8c" stroke-opacity="0.7" stroke-width="1.0"/>
<path d="M119.6 155.5 L124.8 160.7 L119.6 165.9 L114.4 160.7Z" fill="#268c8c" fill-opacity="0.44" stroke="#268c8c" stroke-opacity="0.7" stroke-width="1.0"/>
<path d="M121.5 157.8 L126.7 163.0 L121.5 168.2 L116.3 163.0Z" fill="#268c8c" fill-opacity="0.44" stroke="#268c8c" stroke-opacity="0.7" stroke-width="1.0"/>
<path d="M123.8 170.6 L129.0 175.8 L123.8 181.0 L118.6 175.8Z" fill="#268c8c" fill-opacity="0.44" stroke="#268c8c" stroke-opacity="0.7" stroke-width="1.0"/>
<path d="M125.5 153.1 L130.7 158.3 L125.5 163.5 L120.3 158.3Z" fill="#268c8c" fill-opacity="0.44" stroke="#268c8c" stroke-opacity="0.7" stroke-width="1.0"/>
<path d="M128.0 158.8 L133.2 164.0 L128.0 169.2 L122.8 164.0Z" fill="#268c8c" fill-opacity="0.44" stroke="#268c8c" stroke-opacity="0.7" stroke-width="1.0"/>
<path d="M130.2 159.8 L135.4 165.0 L130.2 170.2 L125.0 165.0Z" fill="#268c8c" fill-opacity="0.44" stroke="#268c8c" stroke-opacity="0.7" stroke-width="1.0"/>
<path d="M131.5 162.8 L136.7 168.0 L131.5 173.2 L126.3 168.0Z" fill="#268c8c" fill-opacity="0.44" stroke="#268c8c" stroke-opacity="0.7" stroke-width="1.0"/>
<path d="M133.0 164.8 L138.2 170.0 L133.0 175.2 L127.8 170.0Z" fill="#268c8c" fill-opacity="0.44" stroke="#268c8c" stroke-opacity="0.7" stroke-width="1.0"/>
<path d="M135.6 151.6 L140.8 156.8 L135.6 162.0 L130.4 156.8Z" fill="#268c8c" fill-opacity="0.44" stroke="#268c8c" stroke-opacity="0.7" stroke-width="1.0"/>
<path d="M137.3 167.3 L142.5 172.5 L137.3 177.7 L132.1 172.5Z" fill="#268c8c" fill-opacity="0.44" stroke="#268c8c" stroke-opacity="0.7" stroke-width="1.0"/>
<path d="M139.5 156.8 L144.7 162.0 L139.5 167.2 L134.3 162.0Z" fill="#268c8c" fill-opacity="0.44" stroke="#268c8c" stroke-opacity="0.7" stroke-width="1.0"/>
<path d="M141.2 160.8 L146.4 166.0 L141.2 171.2 L136.0 166.0Z" fill="#268c8c" fill-opacity="0.44" stroke="#268c8c" stroke-opacity="0.7" stroke-width="1.0"/>
<path d="M142.2 162.9 L147.4 168.1 L142.2 173.3 L137.0 168.1Z" fill="#268c8c" fill-opacity="0.44" stroke="#268c8c" stroke-opacity="0.7" stroke-width="1.0"/>
<path d="M144.0 164.8 L149.2 170.0 L144.0 175.2 L138.8 170.0Z" fill="#268c8c" fill-opacity="0.44" stroke="#268c8c" stroke-opacity="0.7" stroke-width="1.0"/>
<path d="M146.6 159.4 L151.8 164.6 L146.6 169.8 L141.4 164.6Z" fill="#268c8c" fill-opacity="0.44" stroke="#268c8c" stroke-opacity="0.7" stroke-width="1.0"/>
<path d="M150.0 167.4 L155.2 172.6 L150.0 177.8 L144.8 172.6Z" fill="#268c8c" fill-opacity="0.44" stroke="#268c8c" stroke-opacity="0.7" stroke-width="1.0"/>
<path d="M150.6 159.0 L155.8 164.2 L150.6 169.4 L145.4 164.2Z" fill="#268c8c" fill-opacity="0.44" stroke="#268c8c" stroke-opacity="0.7" stroke-width="1.0"/>
<path d="M155.3 140.0 L160.5 145.2 L155.3 150.4 L150.1 145.2Z" fill="#268c8c" fill-opacity="0.44" stroke="#268c8c" stroke-opacity="0.7" stroke-width="1.0"/>
<path d="M159.7 164.6 L164.9 169.8 L159.7 175.0 L154.5 169.8Z" fill="#268c8c" fill-opacity="0.44" stroke="#268c8c" stroke-opacity="0.7" stroke-width="1.0"/>
<path d="M159.7 169.0 L164.9 174.2 L159.7 179.4 L154.5 174.2Z" fill="#268c8c" fill-opacity="0.44" stroke="#268c8c" stroke-opacity="0.7" stroke-width="1.0"/>
<path d="M168.7 153.5 L173.9 158.7 L168.7 163.9 L163.5 158.7Z" fill="#268c8c" fill-opacity="0.44" stroke="#268c8c" stroke-opacity="0.7" stroke-width="1.0"/>
<path d="M170.3 161.8 L175.5 167.0 L170.3 172.2 L165.1 167.0Z" fill="#268c8c" fill-opacity="0.44" stroke="#268c8c" stroke-opacity="0.7" stroke-width="1.0"/>
<path d="M171.8 168.1 L177.0 173.3 L171.8 178.5 L166.6 173.3Z" fill="#268c8c" fill-opacity="0.44" stroke="#268c8c" stroke-opacity="0.7" stroke-width="1.0"/>
<path d="M182.6 154.9 L187.8 160.1 L182.6 165.3 L177.4 160.1Z" fill="#268c8c" fill-opacity="0.44" stroke="#268c8c" stroke-opacity="0.7" stroke-width="1.0"/>
<path d="M183.5 162.1 L188.7 167.3 L183.5 172.5 L178.3 167.3Z" fill="#268c8c" fill-opacity="0.44" stroke="#268c8c" stroke-opacity="0.7" stroke-width="1.0"/>
<path d="M183.0 166.5 L188.2 171.7 L183.0 176.9 L177.8 171.7Z" fill="#268c8c" fill-opacity="0.44" stroke="#268c8c" stroke-opacity="0.7" stroke-width="1.0"/>
<path d="M195.8 154.6 L201.0 159.8 L195.8 165.0 L190.6 159.8Z" fill="#268c8c" fill-opacity="0.44" stroke="#268c8c" stroke-opacity="0.7" stroke-width="1.0"/>
<path d="M196.1 162.7 L201.3 167.9 L196.1 173.1 L190.9 167.9Z" fill="#268c8c" fill-opacity="0.44" stroke="#268c8c" stroke-opacity="0.7" stroke-width="1.0"/>
<path d="M194.0 171.8 L199.2 177.0 L194.0 182.2 L188.8 177.0Z" fill="#268c8c" fill-opacity="0.44" stroke="#268c8c" stroke-opacity="0.7" stroke-width="1.0"/>
<path d="M239.6 164.9 L244.8 170.1 L239.6 175.3 L234.4 170.1Z" fill="#268c8c" fill-opacity="0.44" stroke="#268c8c" stroke-opacity="0.7" stroke-width="1.0"/>
<path d="M258.5 165.3 L263.7 170.5 L258.5 175.7 L253.3 170.5Z" fill="#268c8c" fill-opacity="0.44" stroke="#268c8c" stroke-opacity="0.7" stroke-width="1.0"/>
<line x1="43.7" y1="168.75" x2="259.5" y2="168.75" stroke="#8450c6" stroke-width="1.7" stroke-dasharray="5.3 2.48"/>
<rect x="32.80" y="13.75" width="236.70" height="199.75" fill="none" stroke="#444" stroke-width="1.1"/>
<line x1="43.76" y1="213.50" x2="43.76" y2="215.40" stroke="#444" stroke-width="0.9"/>
<line x1="58.97" y1="213.50" x2="58.97" y2="215.40" stroke="#444" stroke-width="0.9"/>
<line x1="69.77" y1="213.50" x2="69.77" y2="215.40" stroke="#444" stroke-width="0.9"/>
<line x1="78.14" y1="213.50" x2="78.14" y2="215.40" stroke="#444" stroke-width="0.9"/>
<line x1="84.98" y1="213.50" x2="84.98" y2="215.40" stroke="#444" stroke-width="0.9"/>
<line x1="90.77" y1="213.50" x2="90.77" y2="215.40" stroke="#444" stroke-width="0.9"/>
<line x1="95.78" y1="213.50" x2="95.78" y2="215.40" stroke="#444" stroke-width="0.9"/>
<line x1="100.20" y1="213.50" x2="100.20" y2="215.40" stroke="#444" stroke-width="0.9"/>
<line x1="104.15" y1="213.50" x2="104.15" y2="216.80" stroke="#444" stroke-width="0.9"/>
<line x1="130.16" y1="213.50" x2="130.16" y2="215.40" stroke="#444" stroke-width="0.9"/>
<line x1="145.37" y1="213.50" x2="145.37" y2="215.40" stroke="#444" stroke-width="0.9"/>
<line x1="156.17" y1="213.50" x2="156.17" y2="215.40" stroke="#444" stroke-width="0.9"/>
<line x1="164.54" y1="213.50" x2="164.54" y2="215.40" stroke="#444" stroke-width="0.9"/>
<line x1="171.38" y1="213.50" x2="171.38" y2="215.40" stroke="#444" stroke-width="0.9"/>
<line x1="177.17" y1="213.50" x2="177.17" y2="215.40" stroke="#444" stroke-width="0.9"/>
<line x1="182.18" y1="213.50" x2="182.18" y2="215.40" stroke="#444" stroke-width="0.9"/>
<line x1="186.60" y1="213.50" x2="186.60" y2="215.40" stroke="#444" stroke-width="0.9"/>
<line x1="190.55" y1="213.50" x2="190.55" y2="216.80" stroke="#444" stroke-width="0.9"/>
<line x1="216.56" y1="213.50" x2="216.56" y2="215.40" stroke="#444" stroke-width="0.9"/>
<line x1="231.77" y1="213.50" x2="231.77" y2="215.40" stroke="#444" stroke-width="0.9"/>
<line x1="242.57" y1="213.50" x2="242.57" y2="215.40" stroke="#444" stroke-width="0.9"/>
<line x1="250.94" y1="213.50" x2="250.94" y2="215.40" stroke="#444" stroke-width="0.9"/>
<line x1="257.78" y1="213.50" x2="257.78" y2="215.40" stroke="#444" stroke-width="0.9"/>
<line x1="263.57" y1="213.50" x2="263.57" y2="215.40" stroke="#444" stroke-width="0.9"/>
<line x1="268.58" y1="213.50" x2="268.58" y2="215.40" stroke="#444" stroke-width="0.9"/>
<g>
<circle cx="364.8" cy="22.8" r="1.6" fill="#00224e"/>
<circle cx="364.8" cy="47.4" r="1.6" fill="#00224e"/>
<circle cx="364.8" cy="57.2" r="1.6" fill="#00224e"/>
<circle cx="364.8" cy="58.8" r="1.6" fill="#00224e"/>
<circle cx="364.8" cy="60.5" r="1.6" fill="#00224e"/>
<circle cx="364.8" cy="69.0" r="1.6" fill="#00224e"/>
<circle cx="364.8" cy="71.0" r="1.6" fill="#00224e"/>
<circle cx="364.8" cy="73.0" r="1.6" fill="#00224e"/>
<circle cx="364.8" cy="75.0" r="1.6" fill="#00224e"/>
<circle cx="364.8" cy="79.6" r="1.6" fill="#00224e"/>
<circle cx="364.8" cy="83.5" r="1.6" fill="#00224e"/>
<circle cx="364.8" cy="86.7" r="1.6" fill="#00224e"/>
<circle cx="364.8" cy="97.1" r="1.6" fill="#00224e"/>
<circle cx="364.8" cy="100.2" r="1.6" fill="#00224e"/>
<circle cx="364.8" cy="101.8" r="1.6" fill="#00224e"/>
<circle cx="364.8" cy="103.4" r="1.6" fill="#00224e"/>
<circle cx="364.8" cy="105.0" r="1.6" fill="#00224e"/>
<circle cx="364.8" cy="108.5" r="1.6" fill="#00224e"/>
<circle cx="364.8" cy="110.0" r="1.6" fill="#00224e"/>
<circle cx="364.8" cy="111.5" r="1.6" fill="#00224e"/>
<circle cx="381.1" cy="65.8" r="1.6" fill="#00224e"/>
<circle cx="381.1" cy="72.2" r="1.6" fill="#00224e"/>
<circle cx="381.1" cy="89.5" r="1.6" fill="#00224e"/>
<circle cx="381.1" cy="93.2" r="1.6" fill="#00224e"/>
<circle cx="381.1" cy="103.0" r="1.6" fill="#00224e"/>
<circle cx="381.1" cy="108.9" r="1.6" fill="#00224e"/>
<circle cx="381.1" cy="113.2" r="1.6" fill="#00224e"/>
<circle cx="381.1" cy="122.1" r="1.6" fill="#002656"/>
<circle cx="381.1" cy="128.2" r="1.6" fill="#002b62"/>
<circle cx="381.1" cy="144.7" r="1.6" fill="#727274"/>
<circle cx="381.1" cy="147.0" r="1.6" fill="#727274"/>
<circle cx="381.1" cy="203.7" r="1.6" fill="#003070"/>
<circle cx="392.7" cy="64.3" r="1.6" fill="#00224e"/>
<circle cx="392.7" cy="105.5" r="1.6" fill="#00224e"/>
<circle cx="392.7" cy="109.3" r="1.6" fill="#00224e"/>
<circle cx="392.7" cy="112.5" r="1.6" fill="#00224e"/>
<circle cx="392.7" cy="143.5" r="1.6" fill="#727274"/>
<circle cx="392.7" cy="189.3" r="1.6" fill="#727274"/>
<circle cx="392.7" cy="193.6" r="1.6" fill="#35456c"/>
<circle cx="401.7" cy="91.2" r="1.6" fill="#00224e"/>
<circle cx="401.7" cy="104.3" r="1.6" fill="#00224e"/>
<circle cx="401.7" cy="110.9" r="1.6" fill="#00224e"/>
<circle cx="401.7" cy="139.4" r="1.6" fill="#727274"/>
<circle cx="401.7" cy="141.0" r="1.6" fill="#727274"/>
<circle cx="401.7" cy="156.0" r="1.6" fill="#e5cf52"/>
<circle cx="401.7" cy="157.6" r="1.6" fill="#e5cf52"/>
<circle cx="401.7" cy="159.2" r="1.6" fill="#e5cf52"/>
<circle cx="401.7" cy="160.8" r="1.6" fill="#e5cf52"/>
<circle cx="401.7" cy="162.4" r="1.6" fill="#e5cf52"/>
<circle cx="401.7" cy="164.0" r="1.6" fill="#e5cf52"/>
<circle cx="401.7" cy="171.5" r="1.6" fill="#ead34c"/>
<circle cx="401.7" cy="173.0" r="1.6" fill="#ead34c"/>
<circle cx="401.7" cy="174.5" r="1.6" fill="#ead34c"/>
<circle cx="401.7" cy="176.0" r="1.6" fill="#ead34c"/>
<circle cx="401.7" cy="182.4" r="1.6" fill="#aea371"/>
<circle cx="409.0" cy="106.8" r="1.6" fill="#00224e"/>
<circle cx="409.0" cy="120.1" r="1.6" fill="#002859"/>
<circle cx="409.0" cy="122.2" r="1.6" fill="#002859"/>
<circle cx="409.0" cy="137.8" r="1.6" fill="#727274"/>
<circle cx="409.0" cy="162.5" r="1.6" fill="#e5cf52"/>
<circle cx="409.0" cy="164.0" r="1.6" fill="#e5cf52"/>
<circle cx="409.0" cy="165.5" r="1.6" fill="#e5cf52"/>
<circle cx="409.0" cy="167.0" r="1.6" fill="#e5cf52"/>
<circle cx="409.0" cy="168.5" r="1.6" fill="#e5cf52"/>
<circle cx="409.0" cy="170.0" r="1.6" fill="#e5cf52"/>
<circle cx="415.2" cy="97.3" r="1.6" fill="#00224e"/>
<circle cx="415.2" cy="118.8" r="1.6" fill="#00224e"/>
<circle cx="415.2" cy="135.1" r="1.6" fill="#727274"/>
<circle cx="415.2" cy="140.0" r="1.6" fill="#727274"/>
<circle cx="415.2" cy="145.5" r="1.6" fill="#7d7c78"/>
<circle cx="415.2" cy="150.0" r="1.6" fill="#a99f73"/>
<circle cx="415.2" cy="152.0" r="1.6" fill="#a99f73"/>
<circle cx="415.2" cy="154.0" r="1.6" fill="#a99f73"/>
<circle cx="415.2" cy="155.5" r="1.6" fill="#c3b369"/>
<circle cx="415.2" cy="156.8" r="1.6" fill="#c3b369"/>
<circle cx="415.2" cy="160.0" r="1.6" fill="#c3b369"/>
<circle cx="415.2" cy="164.5" r="1.6" fill="#c3b369"/>
<circle cx="415.2" cy="166.0" r="1.6" fill="#c3b369"/>
<circle cx="415.2" cy="167.5" r="1.6" fill="#c3b369"/>
<circle cx="415.2" cy="172.5" r="1.6" fill="#c8b866"/>
<circle cx="415.2" cy="175.6" r="1.6" fill="#c8b866"/>
<circle cx="415.2" cy="178.7" r="1.6" fill="#c8b866"/>
<circle cx="420.6" cy="119.6" r="1.6" fill="#00224e"/>
<circle cx="420.6" cy="131.9" r="1.6" fill="#4f576c"/>
<circle cx="420.6" cy="137.3" r="1.6" fill="#727274"/>
<circle cx="420.6" cy="139.0" r="1.6" fill="#727274"/>
<circle cx="420.6" cy="143.2" r="1.6" fill="#7d7c78"/>
<circle cx="420.6" cy="160.0" r="1.6" fill="#b4a76f"/>
<circle cx="420.6" cy="167.0" r="1.6" fill="#aea371"/>
<circle cx="420.6" cy="168.5" r="1.6" fill="#aea371"/>
<circle cx="420.6" cy="170.0" r="1.6" fill="#aea371"/>
<circle cx="420.6" cy="171.5" r="1.6" fill="#aea371"/>
<circle cx="420.6" cy="173.0" r="1.6" fill="#aea371"/>
<circle cx="420.6" cy="174.5" r="1.6" fill="#aea371"/>
<circle cx="420.6" cy="176.0" r="1.6" fill="#aea371"/>
<circle cx="420.6" cy="177.5" r="1.6" fill="#aea371"/>
<circle cx="425.4" cy="125.7" r="1.6" fill="#00224e"/>
<circle cx="425.4" cy="162.6" r="1.6" fill="#bcae6c"/>
<circle cx="425.4" cy="177.2" r="1.6" fill="#888578"/>
<circle cx="429.6" cy="125.7" r="1.6" fill="#00224e"/>
<circle cx="429.6" cy="164.1" r="1.6" fill="#aea371"/>
<circle cx="433.4" cy="108.4" r="1.6" fill="#00224e"/>
<circle cx="436.9" cy="136.3" r="1.6" fill="#434e6c"/>
<circle cx="436.9" cy="142.2" r="1.6" fill="#5b606e"/>
<circle cx="443.1" cy="140.3" r="1.6" fill="#4f576c"/>
<circle cx="445.9" cy="144.2" r="1.6" fill="#083370"/>
<circle cx="448.5" cy="94.0" r="1.6" fill="#00224e"/>
<circle cx="420.0" cy="132.2" r="1.6" fill="#5b606e"/>
<circle cx="420.0" cy="136.8" r="1.6" fill="#727274"/>
<circle cx="415.6" cy="135.0" r="1.6" fill="#727274"/>
<circle cx="415.6" cy="140.0" r="1.6" fill="#727274"/>
<circle cx="436.8" cy="136.8" r="1.6" fill="#434e6c"/>
<circle cx="436.8" cy="142.4" r="1.6" fill="#434e6c"/>
<circle cx="443.0" cy="140.6" r="1.6" fill="#002b62"/>
<circle cx="445.5" cy="144.3" r="1.6" fill="#35456c"/>
<circle cx="447.0" cy="145.5" r="1.6" fill="#35456c"/>
<circle cx="448.6" cy="146.8" r="1.6" fill="#35456c"/>
<circle cx="446.5" cy="147.2" r="1.6" fill="#35456c"/>
<circle cx="454.8" cy="135.6" r="1.6" fill="#002859"/>
<circle cx="464.8" cy="137.5" r="1.6" fill="#002656"/>
<circle cx="470.3" cy="142.4" r="1.6" fill="#002859"/>
<circle cx="472.2" cy="144.3" r="1.6" fill="#002859"/>
<circle cx="459.2" cy="149.9" r="1.6" fill="#002859"/>
<circle cx="425.0" cy="163.0" r="1.6" fill="#aea371"/>
<circle cx="429.3" cy="164.3" r="1.6" fill="#aea371"/>
<circle cx="425.0" cy="176.7" r="1.6" fill="#7d7c78"/>
<circle cx="436.8" cy="175.5" r="1.6" fill="#4f576c"/>
<circle cx="433.7" cy="178.0" r="1.6" fill="#666970"/>
<circle cx="445.5" cy="168.7" r="1.6" fill="#4f576c"/>
<circle cx="450.4" cy="168.7" r="1.6" fill="#002b62"/>
<circle cx="459.2" cy="164.9" r="1.6" fill="#002859"/>
<circle cx="464.8" cy="158.1" r="1.6" fill="#002859"/>
<circle cx="470.3" cy="161.8" r="1.6" fill="#002859"/>
<circle cx="459.2" cy="150.6" r="1.6" fill="#002859"/>
<circle cx="485.9" cy="150.6" r="1.6" fill="#002859"/>
<circle cx="500.2" cy="138.1" r="1.6" fill="#00224e"/>
<circle cx="500.2" cy="163.2" r="1.6" fill="#00224e"/>
<circle cx="470.6" cy="161.3" r="1.6" fill="#002859"/>
<circle cx="458.8" cy="164.7" r="1.6" fill="#002859"/>
<circle cx="437.3" cy="175.2" r="1.6" fill="#5b606e"/>
<circle cx="445.7" cy="168.4" r="1.6" fill="#4f576c"/>
<circle cx="364.8" cy="113.0" r="1.6" fill="#002b62"/>
<circle cx="364.8" cy="113.8" r="1.6" fill="#002d68"/>
<circle cx="364.8" cy="114.6" r="1.6" fill="#002e6c"/>
<circle cx="364.8" cy="115.5" r="1.6" fill="#00306f"/>
<circle cx="364.8" cy="116.3" r="1.6" fill="#003171"/>
<circle cx="364.8" cy="117.1" r="1.6" fill="#053371"/>
<circle cx="364.8" cy="117.9" r="1.6" fill="#0c3470"/>
<circle cx="364.8" cy="118.7" r="1.6" fill="#143670"/>
<circle cx="364.8" cy="119.5" r="1.6" fill="#18376f"/>
<circle cx="364.8" cy="120.4" r="1.6" fill="#1c396f"/>
<circle cx="364.8" cy="121.2" r="1.6" fill="#213b6e"/>
<circle cx="364.8" cy="122.0" r="1.6" fill="#243c6e"/>
<circle cx="364.8" cy="122.0" r="1.6" fill="#2f426d"/>
<circle cx="364.8" cy="122.8" r="1.6" fill="#33446d"/>
<circle cx="364.8" cy="123.6" r="1.6" fill="#36466c"/>
<circle cx="364.8" cy="124.4" r="1.6" fill="#3a486c"/>
<circle cx="364.8" cy="125.2" r="1.6" fill="#3d4a6c"/>
<circle cx="364.8" cy="126.0" r="1.6" fill="#404c6c"/>
<circle cx="364.8" cy="126.8" r="1.6" fill="#434e6c"/>
<circle cx="364.8" cy="127.6" r="1.6" fill="#46516c"/>
<circle cx="364.8" cy="128.4" r="1.6" fill="#49536c"/>
<circle cx="364.8" cy="129.2" r="1.6" fill="#4c556c"/>
<circle cx="364.8" cy="130.0" r="1.6" fill="#4f576c"/>
<circle cx="364.8" cy="130.0" r="1.6" fill="#4f576c"/>
<circle cx="364.8" cy="130.8" r="1.6" fill="#52596d"/>
<circle cx="364.8" cy="131.6" r="1.6" fill="#545a6d"/>
<circle cx="364.8" cy="132.4" r="1.6" fill="#565c6d"/>
<circle cx="364.8" cy="133.2" r="1.6" fill="#595e6e"/>
<circle cx="364.8" cy="134.0" r="1.6" fill="#5b606e"/>
<circle cx="364.8" cy="134.8" r="1.6" fill="#5e626e"/>
<circle cx="364.8" cy="135.6" r="1.6" fill="#5f636f"/>
<circle cx="364.8" cy="136.4" r="1.6" fill="#62656f"/>
<circle cx="364.8" cy="137.2" r="1.6" fill="#646770"/>
<circle cx="364.8" cy="138.0" r="1.6" fill="#666970"/>
<circle cx="364.8" cy="138.8" r="1.6" fill="#686a71"/>
<circle cx="364.8" cy="139.6" r="1.6" fill="#6b6d72"/>
<circle cx="364.8" cy="140.4" r="1.6" fill="#6d6f72"/>
<circle cx="364.8" cy="141.2" r="1.6" fill="#6f7073"/>
<circle cx="364.8" cy="142.0" r="1.6" fill="#727274"/>
<circle cx="364.8" cy="142.0" r="1.6" fill="#727274"/>
<circle cx="364.8" cy="142.8" r="1.6" fill="#767676"/>
<circle cx="364.8" cy="143.6" r="1.6" fill="#7a7a78"/>
<circle cx="364.8" cy="144.4" r="1.6" fill="#7e7d78"/>
<circle cx="364.8" cy="145.2" r="1.6" fill="#838179"/>
<circle cx="364.8" cy="146.0" r="1.6" fill="#888578"/>
<circle cx="364.8" cy="146.8" r="1.6" fill="#8d8878"/>
<circle cx="364.8" cy="147.6" r="1.6" fill="#928d78"/>
<circle cx="364.8" cy="148.4" r="1.6" fill="#979177"/>
<circle cx="364.8" cy="149.2" r="1.6" fill="#9c9576"/>
<circle cx="364.8" cy="150.0" r="1.6" fill="#a19975"/>
<circle cx="364.8" cy="150.8" r="1.6" fill="#a69c74"/>
<circle cx="364.8" cy="151.6" r="1.6" fill="#aba072"/>
<circle cx="364.8" cy="152.4" r="1.6" fill="#b0a571"/>
<circle cx="364.8" cy="153.2" r="1.6" fill="#b6a96f"/>
<circle cx="364.8" cy="154.0" r="1.6" fill="#bcae6c"/>
<circle cx="364.8" cy="154.0" r="1.6" fill="#d6c35d"/>
<circle cx="364.8" cy="154.8" r="1.6" fill="#d9c55c"/>
<circle cx="364.8" cy="155.6" r="1.6" fill="#dcc859"/>
<circle cx="364.8" cy="156.5" r="1.6" fill="#dec958"/>
<circle cx="364.8" cy="157.3" r="1.6" fill="#e0cb56"/>
<circle cx="364.8" cy="158.1" r="1.6" fill="#e4ce53"/>
<circle cx="364.8" cy="158.9" r="1.6" fill="#e6d051"/>
<circle cx="364.8" cy="159.7" r="1.6" fill="#e8d24f"/>
<circle cx="364.8" cy="160.5" r="1.6" fill="#ebd44b"/>
<circle cx="364.8" cy="161.4" r="1.6" fill="#eed649"/>
<circle cx="364.8" cy="162.2" r="1.6" fill="#f0d846"/>
<circle cx="364.8" cy="163.0" r="1.6" fill="#f3db42"/>
<circle cx="364.8" cy="163.0" r="1.6" fill="#f3db42"/>
<circle cx="364.8" cy="163.8" r="1.6" fill="#f3db42"/>
<circle cx="364.8" cy="164.6" r="1.6" fill="#f5dc41"/>
<circle cx="364.8" cy="165.3" r="1.6" fill="#f6dd3f"/>
<circle cx="364.8" cy="166.1" r="1.6" fill="#f7de3e"/>
<circle cx="364.8" cy="166.9" r="1.6" fill="#f7de3e"/>
<circle cx="364.8" cy="167.7" r="1.6" fill="#f8df3c"/>
<circle cx="364.8" cy="168.4" r="1.6" fill="#f9e03a"/>
<circle cx="364.8" cy="169.2" r="1.6" fill="#f9e03a"/>
<circle cx="364.8" cy="170.0" r="1.6" fill="#fbe138"/>
<circle cx="364.8" cy="170.8" r="1.6" fill="#fce236"/>
<circle cx="364.8" cy="171.6" r="1.6" fill="#fde334"/>
<circle cx="364.8" cy="172.3" r="1.6" fill="#fde334"/>
<circle cx="364.8" cy="173.1" r="1.6" fill="#fee434"/>
<circle cx="364.8" cy="173.9" r="1.6" fill="#fee535"/>
<circle cx="364.8" cy="174.7" r="1.6" fill="#fee535"/>
<circle cx="364.8" cy="175.4" r="1.6" fill="#fee636"/>
<circle cx="364.8" cy="176.2" r="1.6" fill="#fee838"/>
<circle cx="364.8" cy="177.0" r="1.6" fill="#fee838"/>
<circle cx="364.8" cy="177.0" r="1.6" fill="#dfca57"/>
<circle cx="364.8" cy="177.8" r="1.6" fill="#d9c55c"/>
<circle cx="364.8" cy="178.6" r="1.6" fill="#d2c060"/>
<circle cx="364.8" cy="179.4" r="1.6" fill="#ccba64"/>
<circle cx="364.8" cy="180.2" r="1.6" fill="#c5b568"/>
<circle cx="364.8" cy="181.0" r="1.6" fill="#bfb06b"/>
<circle cx="364.8" cy="181.8" r="1.6" fill="#b9ab6d"/>
<circle cx="364.8" cy="182.6" r="1.6" fill="#b4a76f"/>
<circle cx="364.8" cy="183.4" r="1.6" fill="#ada272"/>
<circle cx="364.8" cy="184.2" r="1.6" fill="#a79d73"/>
<circle cx="364.8" cy="185.0" r="1.6" fill="#a19975"/>
<circle cx="364.8" cy="185.0" r="1.6" fill="#948e77"/>
<circle cx="364.8" cy="185.8" r="1.6" fill="#908b78"/>
<circle cx="364.8" cy="186.5" r="1.6" fill="#8c8878"/>
<circle cx="364.8" cy="187.2" r="1.6" fill="#878478"/>
<circle cx="364.8" cy="188.0" r="1.6" fill="#828079"/>
<circle cx="364.8" cy="188.8" r="1.6" fill="#7e7c78"/>
<circle cx="364.8" cy="189.5" r="1.6" fill="#797977"/>
<circle cx="364.8" cy="190.2" r="1.6" fill="#767676"/>
<circle cx="364.8" cy="191.0" r="1.6" fill="#727274"/>
<circle cx="364.8" cy="191.0" r="1.6" fill="#6b6d72"/>
<circle cx="364.8" cy="191.8" r="1.6" fill="#676a71"/>
<circle cx="364.8" cy="192.6" r="1.6" fill="#656870"/>
<circle cx="364.8" cy="193.4" r="1.6" fill="#61656f"/>
<circle cx="364.8" cy="194.2" r="1.6" fill="#5e636f"/>
<circle cx="364.8" cy="195.0" r="1.6" fill="#5b606e"/>
<circle cx="364.8" cy="195.8" r="1.6" fill="#585e6d"/>
<circle cx="364.8" cy="196.6" r="1.6" fill="#555b6d"/>
<circle cx="364.8" cy="197.4" r="1.6" fill="#51586d"/>
<circle cx="364.8" cy="198.2" r="1.6" fill="#4e566c"/>
<circle cx="364.8" cy="199.0" r="1.6" fill="#4a536c"/>
<circle cx="364.8" cy="199.0" r="1.6" fill="#434e6c"/>
<circle cx="364.8" cy="199.8" r="1.6" fill="#3c4a6c"/>
<circle cx="364.8" cy="200.5" r="1.6" fill="#35456c"/>
<circle cx="364.8" cy="201.3" r="1.6" fill="#2e416d"/>
<circle cx="364.8" cy="202.0" r="1.6" fill="#263d6e"/>
<circle cx="364.8" cy="202.8" r="1.6" fill="#1a386f"/>
<circle cx="364.8" cy="203.5" r="1.6" fill="#0c3470"/>
<circle cx="364.8" cy="204.3" r="1.6" fill="#003070"/>
<circle cx="381.1" cy="132.4" r="1.6" fill="#4f576c"/>
<circle cx="381.1" cy="133.2" r="1.6" fill="#51586d"/>
<circle cx="381.1" cy="134.0" r="1.6" fill="#545a6d"/>
<circle cx="381.1" cy="134.8" r="1.6" fill="#555c6d"/>
<circle cx="381.1" cy="135.6" r="1.6" fill="#575d6d"/>
<circle cx="381.1" cy="136.4" r="1.6" fill="#595e6e"/>
<circle cx="381.1" cy="137.2" r="1.6" fill="#5b606e"/>
<circle cx="381.1" cy="138.0" r="1.6" fill="#5d616e"/>
<circle cx="381.1" cy="138.8" r="1.6" fill="#5e636f"/>
<circle cx="381.1" cy="139.6" r="1.6" fill="#61656f"/>
<circle cx="381.1" cy="140.4" r="1.6" fill="#636670"/>
<circle cx="381.1" cy="141.2" r="1.6" fill="#656870"/>
<circle cx="381.1" cy="142.0" r="1.6" fill="#666970"/>
<circle cx="381.1" cy="150.0" r="1.6" fill="#948e77"/>
<circle cx="381.1" cy="150.8" r="1.6" fill="#9c9576"/>
<circle cx="381.1" cy="151.6" r="1.6" fill="#a39a74"/>
<circle cx="381.1" cy="152.4" r="1.6" fill="#aba072"/>
<circle cx="381.1" cy="153.2" r="1.6" fill="#b4a76f"/>
<circle cx="381.1" cy="154.0" r="1.6" fill="#bcae6c"/>
<circle cx="381.1" cy="154.0" r="1.6" fill="#d6c35d"/>
<circle cx="381.1" cy="154.8" r="1.6" fill="#dac65b"/>
<circle cx="381.1" cy="155.6" r="1.6" fill="#dcc859"/>
<circle cx="381.1" cy="156.4" r="1.6" fill="#dfca57"/>
<circle cx="381.1" cy="157.2" r="1.6" fill="#e1cc55"/>
<circle cx="381.1" cy="158.0" r="1.6" fill="#e5cf52"/>
<circle cx="381.1" cy="158.0" r="1.6" fill="#d6c35d"/>
<circle cx="381.1" cy="158.8" r="1.6" fill="#d9c55c"/>
<circle cx="381.1" cy="159.6" r="1.6" fill="#dac65b"/>
<circle cx="381.1" cy="160.4" r="1.6" fill="#dcc859"/>
<circle cx="381.1" cy="161.2" r="1.6" fill="#ddc858"/>
<circle cx="381.1" cy="162.0" r="1.6" fill="#dfca57"/>
<circle cx="381.1" cy="162.8" r="1.6" fill="#e0cb56"/>
<circle cx="381.1" cy="163.6" r="1.6" fill="#e2cd54"/>
<circle cx="381.1" cy="164.4" r="1.6" fill="#e4ce53"/>
<circle cx="381.1" cy="165.2" r="1.6" fill="#e6d051"/>
<circle cx="381.1" cy="166.0" r="1.6" fill="#e7d150"/>
<circle cx="381.1" cy="166.8" r="1.6" fill="#e9d34e"/>
<circle cx="381.1" cy="167.6" r="1.6" fill="#ebd44b"/>
<circle cx="381.1" cy="168.4" r="1.6" fill="#edd54a"/>
<circle cx="381.1" cy="169.2" r="1.6" fill="#efd748"/>
<circle cx="381.1" cy="170.0" r="1.6" fill="#f0d846"/>
<circle cx="381.1" cy="170.8" r="1.6" fill="#f2da44"/>
<circle cx="381.1" cy="171.6" r="1.6" fill="#f3db42"/>
<circle cx="381.1" cy="172.4" r="1.6" fill="#f6dd3f"/>
<circle cx="381.1" cy="173.2" r="1.6" fill="#f7de3e"/>
<circle cx="381.1" cy="174.0" r="1.6" fill="#f9e03a"/>
<circle cx="381.1" cy="174.8" r="1.6" fill="#fbe138"/>
<circle cx="381.1" cy="175.6" r="1.6" fill="#fde334"/>
<circle cx="381.1" cy="176.4" r="1.6" fill="#fee434"/>
<circle cx="381.1" cy="177.2" r="1.6" fill="#fee636"/>
<circle cx="381.1" cy="178.0" r="1.6" fill="#fee838"/>
<circle cx="381.1" cy="178.0" r="1.6" fill="#d6c35d"/>
<circle cx="381.1" cy="178.8" r="1.6" fill="#d0be62"/>
<circle cx="381.1" cy="179.6" r="1.6" fill="#c8b866"/>
<circle cx="381.1" cy="180.4" r="1.6" fill="#c2b369"/>
<circle cx="381.1" cy="181.2" r="1.6" fill="#bcae6c"/>
<circle cx="381.1" cy="182.0" r="1.6" fill="#b5a86f"/>
<circle cx="381.1" cy="182.8" r="1.6" fill="#aea371"/>
<circle cx="381.1" cy="183.6" r="1.6" fill="#a79d73"/>
<circle cx="381.1" cy="184.4" r="1.6" fill="#a19975"/>
<circle cx="381.1" cy="185.2" r="1.6" fill="#9b9476"/>
<circle cx="381.1" cy="186.0" r="1.6" fill="#948e77"/>
<circle cx="381.1" cy="186.0" r="1.6" fill="#7d7c78"/>
<circle cx="381.1" cy="186.8" r="1.6" fill="#787877"/>
<circle cx="381.1" cy="187.5" r="1.6" fill="#747475"/>
<circle cx="381.1" cy="188.3" r="1.6" fill="#717274"/>
<circle cx="381.1" cy="189.1" r="1.6" fill="#6c6e72"/>
<circle cx="381.1" cy="189.9" r="1.6" fill="#686a71"/>
<circle cx="381.1" cy="190.6" r="1.6" fill="#656870"/>
<circle cx="381.1" cy="191.4" r="1.6" fill="#60646f"/>
<circle cx="381.1" cy="192.2" r="1.6" fill="#5c616e"/>
<circle cx="381.1" cy="193.0" r="1.6" fill="#585e6d"/>
<circle cx="381.1" cy="193.7" r="1.6" fill="#545a6d"/>
<circle cx="381.1" cy="194.5" r="1.6" fill="#4f576c"/>
<circle cx="392.7" cy="118.2" r="1.6" fill="#002656"/>
<circle cx="392.7" cy="119.0" r="1.6" fill="#002656"/>
<circle cx="392.7" cy="119.8" r="1.6" fill="#002656"/>
<circle cx="392.7" cy="120.6" r="1.6" fill="#002656"/>
<circle cx="392.7" cy="121.4" r="1.6" fill="#002656"/>
<circle cx="392.7" cy="122.2" r="1.6" fill="#002656"/>
<circle cx="392.7" cy="130.2" r="1.6" fill="#434e6c"/>
<circle cx="392.7" cy="131.0" r="1.6" fill="#45506c"/>
<circle cx="392.7" cy="131.8" r="1.6" fill="#48526c"/>
<circle cx="392.7" cy="132.6" r="1.6" fill="#4b546c"/>
<circle cx="392.7" cy="133.3" r="1.6" fill="#4e566c"/>
<circle cx="392.7" cy="134.1" r="1.6" fill="#51586d"/>
<circle cx="392.7" cy="134.9" r="1.6" fill="#545a6d"/>
<circle cx="392.7" cy="135.7" r="1.6" fill="#565c6d"/>
<circle cx="392.7" cy="136.5" r="1.6" fill="#595e6e"/>
<circle cx="392.7" cy="137.3" r="1.6" fill="#5c616e"/>
<circle cx="392.7" cy="138.1" r="1.6" fill="#5e636f"/>
<circle cx="392.7" cy="138.9" r="1.6" fill="#60646f"/>
<circle cx="392.7" cy="139.6" r="1.6" fill="#636670"/>
<circle cx="392.7" cy="140.4" r="1.6" fill="#656870"/>
<circle cx="392.7" cy="141.2" r="1.6" fill="#686a71"/>
<circle cx="392.7" cy="142.0" r="1.6" fill="#6b6d72"/>
<circle cx="392.7" cy="148.0" r="1.6" fill="#948e77"/>
<circle cx="392.7" cy="148.8" r="1.6" fill="#9c9576"/>
<circle cx="392.7" cy="149.6" r="1.6" fill="#a39a74"/>
<circle cx="392.7" cy="150.4" r="1.6" fill="#aba072"/>
<circle cx="392.7" cy="151.2" r="1.6" fill="#b4a76f"/>
<circle cx="392.7" cy="152.0" r="1.6" fill="#bcae6c"/>
<circle cx="392.7" cy="152.0" r="1.6" fill="#d6c35d"/>
<circle cx="392.7" cy="152.8" r="1.6" fill="#dac65b"/>
<circle cx="392.7" cy="153.6" r="1.6" fill="#dcc859"/>
<circle cx="392.7" cy="154.4" r="1.6" fill="#dfca57"/>
<circle cx="392.7" cy="155.2" r="1.6" fill="#e1cc55"/>
<circle cx="392.7" cy="156.0" r="1.6" fill="#e5cf52"/>
<circle cx="392.7" cy="156.8" r="1.6" fill="#e7d150"/>
<circle cx="392.7" cy="157.6" r="1.6" fill="#ead34c"/>
<circle cx="392.7" cy="158.4" r="1.6" fill="#eed649"/>
<circle cx="392.7" cy="159.2" r="1.6" fill="#f0d846"/>
<circle cx="392.7" cy="160.0" r="1.6" fill="#f3db42"/>
<circle cx="392.7" cy="160.0" r="1.6" fill="#e5cf52"/>
<circle cx="392.7" cy="160.8" r="1.6" fill="#e6d051"/>
<circle cx="392.7" cy="161.6" r="1.6" fill="#e7d150"/>
<circle cx="392.7" cy="162.4" r="1.6" fill="#e8d24f"/>
<circle cx="392.7" cy="163.2" r="1.6" fill="#e9d34e"/>
<circle cx="392.7" cy="164.0" r="1.6" fill="#ead34c"/>
<circle cx="392.7" cy="164.8" r="1.6" fill="#ebd44b"/>
<circle cx="392.7" cy="165.6" r="1.6" fill="#edd54a"/>
<circle cx="392.7" cy="166.4" r="1.6" fill="#eed649"/>
<circle cx="392.7" cy="167.2" r="1.6" fill="#efd748"/>
<circle cx="392.7" cy="168.0" r="1.6" fill="#f0d846"/>
<circle cx="392.7" cy="168.8" r="1.6" fill="#f1d945"/>
<circle cx="392.7" cy="169.6" r="1.6" fill="#f2da44"/>
<circle cx="392.7" cy="170.4" r="1.6" fill="#f3db42"/>
<circle cx="392.7" cy="171.2" r="1.6" fill="#f5dc41"/>
<circle cx="392.7" cy="172.0" r="1.6" fill="#f6dd3f"/>
<circle cx="392.7" cy="172.8" r="1.6" fill="#f7de3e"/>
<circle cx="392.7" cy="173.6" r="1.6" fill="#f8df3c"/>
<circle cx="392.7" cy="174.4" r="1.6" fill="#f9e03a"/>
<circle cx="392.7" cy="175.2" r="1.6" fill="#fbe138"/>
<circle cx="392.7" cy="176.0" r="1.6" fill="#fce236"/>
<circle cx="392.7" cy="176.8" r="1.6" fill="#fde334"/>
<circle cx="392.7" cy="177.6" r="1.6" fill="#fee434"/>
<circle cx="392.7" cy="178.4" r="1.6" fill="#fee535"/>
<circle cx="392.7" cy="179.2" r="1.6" fill="#fee636"/>
<circle cx="392.7" cy="180.0" r="1.6" fill="#fee838"/>
<circle cx="392.7" cy="182.4" r="1.6" fill="#aea371"/>
<circle cx="392.7" cy="183.2" r="1.6" fill="#aea371"/>
<circle cx="392.7" cy="183.9" r="1.6" fill="#aea371"/>
<circle cx="392.7" cy="184.7" r="1.6" fill="#aea371"/>
<circle cx="392.7" cy="185.4" r="1.6" fill="#aea371"/>
<circle cx="392.7" cy="186.2" r="1.6" fill="#aea371"/>
<circle cx="401.7" cy="120.7" r="1.6" fill="#002b62"/>
<circle cx="401.7" cy="121.5" r="1.6" fill="#002b62"/>
<circle cx="401.7" cy="122.4" r="1.6" fill="#002b62"/>
<circle cx="401.7" cy="123.2" r="1.6" fill="#002b62"/>
<circle cx="401.7" cy="126.0" r="1.6" fill="#35456c"/>
<circle cx="401.7" cy="126.8" r="1.6" fill="#3a486c"/>
<circle cx="401.7" cy="127.7" r="1.6" fill="#3e4b6c"/>
<circle cx="401.7" cy="128.5" r="1.6" fill="#434e6c"/>
<circle cx="401.7" cy="129.3" r="1.6" fill="#47516c"/>
<circle cx="401.7" cy="130.2" r="1.6" fill="#4b546c"/>
<circle cx="401.7" cy="131.0" r="1.6" fill="#4f576c"/>
<circle cx="401.7" cy="145.0" r="1.6" fill="#948e77"/>
<circle cx="401.7" cy="145.8" r="1.6" fill="#989277"/>
<circle cx="401.7" cy="146.6" r="1.6" fill="#9b9476"/>
<circle cx="401.7" cy="147.5" r="1.6" fill="#9f9775"/>
<circle cx="401.7" cy="148.3" r="1.6" fill="#a29975"/>
<circle cx="401.7" cy="149.1" r="1.6" fill="#a69c74"/>
<circle cx="401.7" cy="149.9" r="1.6" fill="#a99f73"/>
<circle cx="401.7" cy="150.7" r="1.6" fill="#ada272"/>
<circle cx="401.7" cy="151.5" r="1.6" fill="#b0a571"/>
<circle cx="401.7" cy="152.4" r="1.6" fill="#b5a86f"/>
<circle cx="401.7" cy="153.2" r="1.6" fill="#b8aa6e"/>
<circle cx="401.7" cy="154.0" r="1.6" fill="#bcae6c"/>
<circle cx="409.0" cy="145.0" r="1.6" fill="#948e77"/>
<circle cx="409.0" cy="145.8" r="1.6" fill="#979177"/>
<circle cx="409.0" cy="146.6" r="1.6" fill="#9a9376"/>
<circle cx="409.0" cy="147.3" r="1.6" fill="#9d9576"/>
<circle cx="409.0" cy="148.1" r="1.6" fill="#9f9775"/>
<circle cx="409.0" cy="148.9" r="1.6" fill="#a29975"/>
<circle cx="409.0" cy="149.7" r="1.6" fill="#a59c74"/>
<circle cx="409.0" cy="150.4" r="1.6" fill="#a89e73"/>
<circle cx="409.0" cy="151.2" r="1.6" fill="#aba072"/>
<circle cx="409.0" cy="152.0" r="1.6" fill="#aea371"/>
<circle cx="453.8" cy="164.6" r="1.7" fill="#001a40"/>
<circle cx="456.1" cy="146.9" r="1.7" fill="#001a40"/>
<circle cx="457.3" cy="140.0" r="1.7" fill="#001a40"/>
<circle cx="457.3" cy="145.5" r="1.7" fill="#001a40"/>
<circle cx="459.0" cy="158.7" r="1.7" fill="#001a40"/>
<circle cx="462.9" cy="129.5" r="1.7" fill="#001a40"/>
<circle cx="464.8" cy="146.2" r="1.7" fill="#001a40"/>
<circle cx="464.8" cy="157.4" r="1.7" fill="#001a40"/>
<circle cx="471.0" cy="156.2" r="1.7" fill="#001a40"/>
<circle cx="472.2" cy="149.9" r="1.7" fill="#001a40"/>
<circle cx="477.2" cy="171.4" r="1.7" fill="#001a40"/>
<circle cx="478.4" cy="153.0" r="1.7" fill="#001a40"/>
<circle cx="480.9" cy="135.0" r="1.7" fill="#001a40"/>
<circle cx="482.8" cy="156.7" r="1.7" fill="#001a40"/>
<circle cx="484.7" cy="142.4" r="1.7" fill="#001a40"/>
<circle cx="485.9" cy="149.9" r="1.7" fill="#001a40"/>
<circle cx="485.6" cy="143.7" r="1.7" fill="#001a40"/>
<circle cx="492.5" cy="148.6" r="1.7" fill="#001a40"/>
<circle cx="514.9" cy="145.9" r="1.7" fill="#001a40"/>
<circle cx="517.1" cy="141.2" r="1.7" fill="#001a40"/>
<circle cx="524.6" cy="158.9" r="1.7" fill="#001a40"/>
<circle cx="559.0" cy="159.9" r="1.7" fill="#001a40"/>
<circle cx="579.7" cy="161.4" r="1.7" fill="#001a40"/>
</g>
<path d="M364.8 154.1 L370.0 159.3 L364.8 164.5 L359.6 159.3Z" fill="#268c8c" fill-opacity="0.44" stroke="#268c8c" stroke-opacity="0.7" stroke-width="1.0"/>
<path d="M381.1 154.0 L386.3 159.2 L381.1 164.4 L375.9 159.2Z" fill="#268c8c" fill-opacity="0.44" stroke="#268c8c" stroke-opacity="0.7" stroke-width="1.0"/>
<path d="M392.7 151.8 L397.9 157.0 L392.7 162.2 L387.5 157.0Z" fill="#268c8c" fill-opacity="0.44" stroke="#268c8c" stroke-opacity="0.7" stroke-width="1.0"/>
<path d="M401.7 140.8 L406.9 146.0 L401.7 151.2 L396.5 146.0Z" fill="#268c8c" fill-opacity="0.44" stroke="#268c8c" stroke-opacity="0.7" stroke-width="1.0"/>
<path d="M409.0 142.8 L414.2 148.0 L409.0 153.2 L403.8 148.0Z" fill="#268c8c" fill-opacity="0.44" stroke="#268c8c" stroke-opacity="0.7" stroke-width="1.0"/>
<path d="M415.2 144.6 L420.4 149.8 L415.2 155.0 L410.0 149.8Z" fill="#268c8c" fill-opacity="0.44" stroke="#268c8c" stroke-opacity="0.7" stroke-width="1.0"/>
<path d="M420.6 146.0 L425.8 151.2 L420.6 156.4 L415.4 151.2Z" fill="#268c8c" fill-opacity="0.44" stroke="#268c8c" stroke-opacity="0.7" stroke-width="1.0"/>
<path d="M425.4 151.3 L430.6 156.5 L425.4 161.7 L420.2 156.5Z" fill="#268c8c" fill-opacity="0.44" stroke="#268c8c" stroke-opacity="0.7" stroke-width="1.0"/>
<path d="M429.6 140.5 L434.8 145.7 L429.6 150.9 L424.4 145.7Z" fill="#268c8c" fill-opacity="0.44" stroke="#268c8c" stroke-opacity="0.7" stroke-width="1.0"/>
<path d="M433.4 143.6 L438.6 148.8 L433.4 154.0 L428.2 148.8Z" fill="#268c8c" fill-opacity="0.44" stroke="#268c8c" stroke-opacity="0.7" stroke-width="1.0"/>
<path d="M436.9 146.0 L442.1 151.2 L436.9 156.4 L431.7 151.2Z" fill="#268c8c" fill-opacity="0.44" stroke="#268c8c" stroke-opacity="0.7" stroke-width="1.0"/>
<path d="M440.2 162.6 L445.4 167.8 L440.2 173.0 L435.0 167.8Z" fill="#268c8c" fill-opacity="0.44" stroke="#268c8c" stroke-opacity="0.7" stroke-width="1.0"/>
<path d="M443.1 144.6 L448.3 149.8 L443.1 155.0 L437.9 149.8Z" fill="#268c8c" fill-opacity="0.44" stroke="#268c8c" stroke-opacity="0.7" stroke-width="1.0"/>
<path d="M445.9 150.5 L451.1 155.7 L445.9 160.9 L440.7 155.7Z" fill="#268c8c" fill-opacity="0.44" stroke="#268c8c" stroke-opacity="0.7" stroke-width="1.0"/>
<path d="M448.0 129.2 L453.2 134.4 L448.0 139.6 L442.8 134.4Z" fill="#268c8c" fill-opacity="0.44" stroke="#268c8c" stroke-opacity="0.7" stroke-width="1.0"/>
<path d="M451.0 154.4 L456.2 159.6 L451.0 164.8 L445.8 159.6Z" fill="#268c8c" fill-opacity="0.44" stroke="#268c8c" stroke-opacity="0.7" stroke-width="1.0"/>
<path d="M453.8 159.4 L459.0 164.6 L453.8 169.8 L448.6 164.6Z" fill="#268c8c" fill-opacity="0.44" stroke="#268c8c" stroke-opacity="0.7" stroke-width="1.0"/>
<path d="M456.1 141.7 L461.3 146.9 L456.1 152.1 L450.9 146.9Z" fill="#268c8c" fill-opacity="0.44" stroke="#268c8c" stroke-opacity="0.7" stroke-width="1.0"/>
<path d="M457.3 134.8 L462.5 140.0 L457.3 145.2 L452.1 140.0Z" fill="#268c8c" fill-opacity="0.44" stroke="#268c8c" stroke-opacity="0.7" stroke-width="1.0"/>
<path d="M457.3 140.3 L462.5 145.5 L457.3 150.7 L452.1 145.5Z" fill="#268c8c" fill-opacity="0.44" stroke="#268c8c" stroke-opacity="0.7" stroke-width="1.0"/>
<path d="M459.0 153.5 L464.2 158.7 L459.0 163.9 L453.8 158.7Z" fill="#268c8c" fill-opacity="0.44" stroke="#268c8c" stroke-opacity="0.7" stroke-width="1.0"/>
<path d="M462.9 124.3 L468.1 129.5 L462.9 134.7 L457.7 129.5Z" fill="#268c8c" fill-opacity="0.44" stroke="#268c8c" stroke-opacity="0.7" stroke-width="1.0"/>
<path d="M464.8 141.0 L470.0 146.2 L464.8 151.4 L459.6 146.2Z" fill="#268c8c" fill-opacity="0.44" stroke="#268c8c" stroke-opacity="0.7" stroke-width="1.0"/>
<path d="M464.8 152.2 L470.0 157.4 L464.8 162.6 L459.6 157.4Z" fill="#268c8c" fill-opacity="0.44" stroke="#268c8c" stroke-opacity="0.7" stroke-width="1.0"/>
<path d="M471.0 151.0 L476.2 156.2 L471.0 161.4 L465.8 156.2Z" fill="#268c8c" fill-opacity="0.44" stroke="#268c8c" stroke-opacity="0.7" stroke-width="1.0"/>
<path d="M472.2 144.7 L477.4 149.9 L472.2 155.1 L467.0 149.9Z" fill="#268c8c" fill-opacity="0.44" stroke="#268c8c" stroke-opacity="0.7" stroke-width="1.0"/>
<path d="M477.2 166.2 L482.4 171.4 L477.2 176.6 L472.0 171.4Z" fill="#268c8c" fill-opacity="0.44" stroke="#268c8c" stroke-opacity="0.7" stroke-width="1.0"/>
<path d="M478.4 147.8 L483.6 153.0 L478.4 158.2 L473.2 153.0Z" fill="#268c8c" fill-opacity="0.44" stroke="#268c8c" stroke-opacity="0.7" stroke-width="1.0"/>
<path d="M480.9 129.8 L486.1 135.0 L480.9 140.2 L475.7 135.0Z" fill="#268c8c" fill-opacity="0.44" stroke="#268c8c" stroke-opacity="0.7" stroke-width="1.0"/>
<path d="M482.8 151.5 L488.0 156.7 L482.8 161.9 L477.6 156.7Z" fill="#268c8c" fill-opacity="0.44" stroke="#268c8c" stroke-opacity="0.7" stroke-width="1.0"/>
<path d="M484.7 137.2 L489.9 142.4 L484.7 147.6 L479.5 142.4Z" fill="#268c8c" fill-opacity="0.44" stroke="#268c8c" stroke-opacity="0.7" stroke-width="1.0"/>
<path d="M485.9 144.7 L491.1 149.9 L485.9 155.1 L480.7 149.9Z" fill="#268c8c" fill-opacity="0.44" stroke="#268c8c" stroke-opacity="0.7" stroke-width="1.0"/>
<path d="M485.6 138.5 L490.8 143.7 L485.6 148.9 L480.4 143.7Z" fill="#268c8c" fill-opacity="0.44" stroke="#268c8c" stroke-opacity="0.7" stroke-width="1.0"/>
<path d="M492.5 143.4 L497.7 148.6 L492.5 153.8 L487.3 148.6Z" fill="#268c8c" fill-opacity="0.44" stroke="#268c8c" stroke-opacity="0.7" stroke-width="1.0"/>
<path d="M500.5 144.7 L505.7 149.9 L500.5 155.1 L495.3 149.9Z" fill="#268c8c" fill-opacity="0.44" stroke="#268c8c" stroke-opacity="0.7" stroke-width="1.0"/>
<path d="M514.9 140.7 L520.1 145.9 L514.9 151.1 L509.7 145.9Z" fill="#268c8c" fill-opacity="0.44" stroke="#268c8c" stroke-opacity="0.7" stroke-width="1.0"/>
<path d="M517.1 136.0 L522.3 141.2 L517.1 146.4 L511.9 141.2Z" fill="#268c8c" fill-opacity="0.44" stroke="#268c8c" stroke-opacity="0.7" stroke-width="1.0"/>
<path d="M524.6 153.7 L529.8 158.9 L524.6 164.1 L519.4 158.9Z" fill="#268c8c" fill-opacity="0.44" stroke="#268c8c" stroke-opacity="0.7" stroke-width="1.0"/>
<path d="M559.0 154.7 L564.2 159.9 L559.0 165.1 L553.8 159.9Z" fill="#268c8c" fill-opacity="0.44" stroke="#268c8c" stroke-opacity="0.7" stroke-width="1.0"/>
<path d="M579.7 156.2 L584.9 161.4 L579.7 166.6 L574.5 161.4Z" fill="#268c8c" fill-opacity="0.44" stroke="#268c8c" stroke-opacity="0.7" stroke-width="1.0"/>
<path d="M451.1 156.0 L456.3 161.2 L451.1 166.4 L445.9 161.2Z" fill="#268c8c" fill-opacity="0.44" stroke="#268c8c" stroke-opacity="0.7" stroke-width="1.0"/>
<path d="M447.3 152.9 L452.5 158.1 L447.3 163.3 L442.1 158.1Z" fill="#268c8c" fill-opacity="0.44" stroke="#268c8c" stroke-opacity="0.7" stroke-width="1.0"/>
<path d="M452.3 143.5 L457.5 148.7 L452.3 153.9 L447.1 148.7Z" fill="#268c8c" fill-opacity="0.44" stroke="#268c8c" stroke-opacity="0.7" stroke-width="1.0"/>
<path d="M441.1 145.3 L446.3 150.5 L441.1 155.7 L435.9 150.5Z" fill="#268c8c" fill-opacity="0.44" stroke="#268c8c" stroke-opacity="0.7" stroke-width="1.0"/>
<path d="M434.9 144.7 L440.1 149.9 L434.9 155.1 L429.7 149.9Z" fill="#268c8c" fill-opacity="0.44" stroke="#268c8c" stroke-opacity="0.7" stroke-width="1.0"/>
<line x1="364.8" y1="154.4" x2="579.7" y2="154.4" stroke="#8450c6" stroke-width="1.7" stroke-dasharray="5.3 2.48"/>
<rect x="353.80" y="13.75" width="236.70" height="199.75" fill="none" stroke="#444" stroke-width="1.1"/>
<line x1="364.81" y1="213.50" x2="364.81" y2="215.40" stroke="#444" stroke-width="0.9"/>
<line x1="381.13" y1="213.50" x2="381.13" y2="215.40" stroke="#444" stroke-width="0.9"/>
<line x1="392.71" y1="213.50" x2="392.71" y2="215.40" stroke="#444" stroke-width="0.9"/>
<line x1="401.69" y1="213.50" x2="401.69" y2="215.40" stroke="#444" stroke-width="0.9"/>
<line x1="409.03" y1="213.50" x2="409.03" y2="215.40" stroke="#444" stroke-width="0.9"/>
<line x1="415.24" y1="213.50" x2="415.24" y2="215.40" stroke="#444" stroke-width="0.9"/>
<line x1="420.62" y1="213.50" x2="420.62" y2="215.40" stroke="#444" stroke-width="0.9"/>
<line x1="425.36" y1="213.50" x2="425.36" y2="215.40" stroke="#444" stroke-width="0.9"/>
<line x1="429.60" y1="213.50" x2="429.60" y2="216.80" stroke="#444" stroke-width="0.9"/>
<line x1="457.51" y1="213.50" x2="457.51" y2="215.40" stroke="#444" stroke-width="0.9"/>
<line x1="473.83" y1="213.50" x2="473.83" y2="215.40" stroke="#444" stroke-width="0.9"/>
<line x1="485.41" y1="213.50" x2="485.41" y2="215.40" stroke="#444" stroke-width="0.9"/>
<line x1="494.39" y1="213.50" x2="494.39" y2="215.40" stroke="#444" stroke-width="0.9"/>
<line x1="501.73" y1="213.50" x2="501.73" y2="215.40" stroke="#444" stroke-width="0.9"/>
<line x1="507.94" y1="213.50" x2="507.94" y2="215.40" stroke="#444" stroke-width="0.9"/>
<line x1="513.32" y1="213.50" x2="513.32" y2="215.40" stroke="#444" stroke-width="0.9"/>
<line x1="518.06" y1="213.50" x2="518.06" y2="215.40" stroke="#444" stroke-width="0.9"/>
<line x1="522.30" y1="213.50" x2="522.30" y2="216.80" stroke="#444" stroke-width="0.9"/>
<line x1="550.21" y1="213.50" x2="550.21" y2="215.40" stroke="#444" stroke-width="0.9"/>
<line x1="566.53" y1="213.50" x2="566.53" y2="215.40" stroke="#444" stroke-width="0.9"/>
<line x1="578.11" y1="213.50" x2="578.11" y2="215.40" stroke="#444" stroke-width="0.9"/>
<line x1="587.09" y1="213.50" x2="587.09" y2="215.40" stroke="#444" stroke-width="0.9"/>
<line x1="29.60" y1="206.20" x2="32.80" y2="206.20" stroke="#444" stroke-width="0.9"/>
<line x1="29.60" y1="179.18" x2="32.80" y2="179.18" stroke="#444" stroke-width="0.9"/>
<line x1="29.60" y1="152.16" x2="32.80" y2="152.16" stroke="#444" stroke-width="0.9"/>
<line x1="29.60" y1="125.14" x2="32.80" y2="125.14" stroke="#444" stroke-width="0.9"/>
<line x1="29.60" y1="98.12" x2="32.80" y2="98.12" stroke="#444" stroke-width="0.9"/>
<line x1="29.60" y1="71.10" x2="32.80" y2="71.10" stroke="#444" stroke-width="0.9"/>
<line x1="29.60" y1="44.08" x2="32.80" y2="44.08" stroke="#444" stroke-width="0.9"/>
<line x1="29.60" y1="17.06" x2="32.80" y2="17.06" stroke="#444" stroke-width="0.9"/>
<text x="20.96" y="210.10" font-size="11.9" fill="#000" stroke="#000" stroke-width="0.1" textLength="6.37" lengthAdjust="spacingAndGlyphs">0</text>
<text x="20.67" y="183.08" font-size="11.9" fill="#000" stroke="#000" stroke-width="0.1" textLength="6.70" lengthAdjust="spacingAndGlyphs">5</text>
<text x="14.41" y="156.06" font-size="11.9" fill="#000" stroke="#000" stroke-width="0.1" textLength="12.93" lengthAdjust="spacingAndGlyphs">10</text>
<text x="14.41" y="129.04" font-size="11.9" fill="#000" stroke="#000" stroke-width="0.1" textLength="12.94" lengthAdjust="spacingAndGlyphs">15</text>
<text x="15.01" y="102.02" font-size="11.9" fill="#000" stroke="#000" stroke-width="0.1" textLength="12.31" lengthAdjust="spacingAndGlyphs">20</text>
<text x="15.01" y="75.00" font-size="11.9" fill="#000" stroke="#000" stroke-width="0.1" textLength="12.32" lengthAdjust="spacingAndGlyphs">25</text>
<text x="14.96" y="47.98" font-size="11.9" fill="#000" stroke="#000" stroke-width="0.1" textLength="12.36" lengthAdjust="spacingAndGlyphs">30</text>
<text x="14.96" y="20.96" font-size="11.9" fill="#000" stroke="#000" stroke-width="0.1" textLength="12.38" lengthAdjust="spacingAndGlyphs">35</text>
<line x1="350.60" y1="210.90" x2="353.80" y2="210.90" stroke="#444" stroke-width="0.9"/>
<line x1="350.60" y1="185.20" x2="353.80" y2="185.20" stroke="#444" stroke-width="0.9"/>
<line x1="350.60" y1="159.50" x2="353.80" y2="159.50" stroke="#444" stroke-width="0.9"/>
<line x1="350.60" y1="133.80" x2="353.80" y2="133.80" stroke="#444" stroke-width="0.9"/>
<line x1="350.60" y1="108.10" x2="353.80" y2="108.10" stroke="#444" stroke-width="0.9"/>
<line x1="350.60" y1="82.40" x2="353.80" y2="82.40" stroke="#444" stroke-width="0.9"/>
<line x1="350.60" y1="56.70" x2="353.80" y2="56.70" stroke="#444" stroke-width="0.9"/>
<line x1="350.60" y1="31.00" x2="353.80" y2="31.00" stroke="#444" stroke-width="0.9"/>
<text x="333.08" y="214.80" font-size="11.9" fill="#000" stroke="#000" stroke-width="0.1" textLength="15.33" lengthAdjust="spacingAndGlyphs">0.0</text>
<text x="333.01" y="189.10" font-size="11.9" fill="#000" stroke="#000" stroke-width="0.1" textLength="15.42" lengthAdjust="spacingAndGlyphs">2.5</text>
<text x="332.82" y="163.40" font-size="11.9" fill="#000" stroke="#000" stroke-width="0.1" textLength="15.60" lengthAdjust="spacingAndGlyphs">5.0</text>
<text x="332.72" y="137.70" font-size="11.9" fill="#000" stroke="#000" stroke-width="0.1" textLength="15.72" lengthAdjust="spacingAndGlyphs">7.5</text>
<text x="326.02" y="112.00" font-size="11.9" fill="#000" stroke="#000" stroke-width="0.1" textLength="22.41" lengthAdjust="spacingAndGlyphs">10.0</text>
<text x="326.02" y="86.30" font-size="11.9" fill="#000" stroke="#000" stroke-width="0.1" textLength="22.43" lengthAdjust="spacingAndGlyphs">12.5</text>
<text x="326.02" y="60.60" font-size="11.9" fill="#000" stroke="#000" stroke-width="0.1" textLength="22.41" lengthAdjust="spacingAndGlyphs">15.0</text>
<text x="326.02" y="34.90" font-size="11.9" fill="#000" stroke="#000" stroke-width="0.1" textLength="22.43" lengthAdjust="spacingAndGlyphs">17.5</text>
<text x="94.61" y="226.90" font-size="12.2" fill="#000" stroke="#000" stroke-width="0.1" textLength="12.93" lengthAdjust="spacingAndGlyphs">10</text>
<text x="108.08" y="223.20" font-size="7.6" fill="#000" stroke="#000" stroke-width="0.0" textLength="3.83" lengthAdjust="spacingAndGlyphs">1</text>
<text x="181.22" y="226.90" font-size="12.2" fill="#000" stroke="#000" stroke-width="0.1" textLength="12.81" lengthAdjust="spacingAndGlyphs">10</text>
<text x="194.84" y="223.20" font-size="7.6" fill="#000" stroke="#000" stroke-width="0.0" textLength="4.61" lengthAdjust="spacingAndGlyphs">2</text>
<text x="419.90" y="226.90" font-size="12.2" fill="#000" stroke="#000" stroke-width="0.1" textLength="13.04" lengthAdjust="spacingAndGlyphs">10</text>
<text x="433.43" y="223.20" font-size="7.6" fill="#000" stroke="#000" stroke-width="0.0" textLength="4.12" lengthAdjust="spacingAndGlyphs">1</text>
<text x="512.71" y="226.90" font-size="12.2" fill="#000" stroke="#000" stroke-width="0.1" textLength="12.93" lengthAdjust="spacingAndGlyphs">10</text>
<text x="526.49" y="223.20" font-size="7.6" fill="#000" stroke="#000" stroke-width="0.0" textLength="4.12" lengthAdjust="spacingAndGlyphs">2</text>
<text x="23.22" y="242.50" font-size="11.8" fill="#000" stroke="#000" stroke-width="0.0" textLength="48.76" lengthAdjust="spacingAndGlyphs">Number</text>
<text x="76.13" y="242.50" font-size="11.8" fill="#000" stroke="#000" stroke-width="0.0" textLength="11.32" lengthAdjust="spacingAndGlyphs">of</text>
<text x="90.91" y="238.50" font-size="8.2" fill="#000" stroke="#000" stroke-width="0.0" textLength="10.65" lengthAdjust="spacingAndGlyphs">13</text>
<text x="102.13" y="242.50" font-size="11.8" fill="#000" stroke="#000" stroke-width="0.0" textLength="17.75" lengthAdjust="spacingAndGlyphs">CO</text>
<text x="124.01" y="242.50" font-size="11.8" fill="#000" stroke="#000" stroke-width="0.0" textLength="61.11" lengthAdjust="spacingAndGlyphs">structures</text>
<text x="189.19" y="242.50" font-size="11.8" fill="#000" stroke="#000" stroke-width="0.0" textLength="20.60" lengthAdjust="spacingAndGlyphs">per</text>
<text x="213.15" y="238.50" font-size="8.2" fill="#000" stroke="#000" stroke-width="0.0" textLength="10.27" lengthAdjust="spacingAndGlyphs">12</text>
<text x="224.02" y="242.50" font-size="11.8" fill="#000" stroke="#000" stroke-width="0.0" textLength="17.96" lengthAdjust="spacingAndGlyphs">CO</text>
<text x="246.30" y="242.50" font-size="11.8" fill="#000" stroke="#000" stroke-width="0.0" textLength="32.02" lengthAdjust="spacingAndGlyphs">cloud</text>
<text x="344.22" y="242.50" font-size="11.8" fill="#000" stroke="#000" stroke-width="0.0" textLength="48.76" lengthAdjust="spacingAndGlyphs">Number</text>
<text x="397.13" y="242.50" font-size="11.8" fill="#000" stroke="#000" stroke-width="0.0" textLength="11.32" lengthAdjust="spacingAndGlyphs">of</text>
<text x="411.91" y="238.50" font-size="8.2" fill="#000" stroke="#000" stroke-width="0.0" textLength="10.65" lengthAdjust="spacingAndGlyphs">13</text>
<text x="423.13" y="242.50" font-size="11.8" fill="#000" stroke="#000" stroke-width="0.0" textLength="17.75" lengthAdjust="spacingAndGlyphs">CO</text>
<text x="445.01" y="242.50" font-size="11.8" fill="#000" stroke="#000" stroke-width="0.0" textLength="61.11" lengthAdjust="spacingAndGlyphs">structures</text>
<text x="510.19" y="242.50" font-size="11.8" fill="#000" stroke="#000" stroke-width="0.0" textLength="20.60" lengthAdjust="spacingAndGlyphs">per</text>
<text x="534.15" y="238.50" font-size="8.2" fill="#000" stroke="#000" stroke-width="0.0" textLength="10.27" lengthAdjust="spacingAndGlyphs">12</text>
<text x="545.02" y="242.50" font-size="11.8" fill="#000" stroke="#000" stroke-width="0.0" textLength="17.96" lengthAdjust="spacingAndGlyphs">CO</text>
<text x="567.30" y="242.50" font-size="11.8" fill="#000" stroke="#000" stroke-width="0.0" textLength="32.02" lengthAdjust="spacingAndGlyphs">cloud</text>
<text transform="translate(9.40,215.25) rotate(-90)" x="-0.43" y="0" font-size="11.8" fill="#000" stroke="#000" stroke-width="0.0" textLength="33.75" lengthAdjust="spacingAndGlyphs">Mean</text>
<text transform="translate(9.40,177.25) rotate(-90)" x="-0.52" y="0" font-size="11.8" fill="#000" stroke="#000" stroke-width="0.0" textLength="44.76" lengthAdjust="spacingAndGlyphs">angular</text>
<text transform="translate(9.40,128.75) rotate(-90)" x="-0.63" y="0" font-size="11.8" fill="#000" stroke="#000" stroke-width="0.0" textLength="63.57" lengthAdjust="spacingAndGlyphs">separation</text>
<text transform="translate(9.40,62.15) rotate(-90)" x="-0.66" y="0" font-size="11.8" fill="#000" stroke="#000" stroke-width="0.0" textLength="51.41" lengthAdjust="spacingAndGlyphs">(arcmin)</text>
<text transform="translate(320.60,215.25) rotate(-90)" x="-0.43" y="0" font-size="11.8" fill="#000" stroke="#000" stroke-width="0.0" textLength="33.75" lengthAdjust="spacingAndGlyphs">Mean</text>
<text transform="translate(320.60,177.25) rotate(-90)" x="-0.52" y="0" font-size="11.8" fill="#000" stroke="#000" stroke-width="0.0" textLength="44.76" lengthAdjust="spacingAndGlyphs">angular</text>
<text transform="translate(320.60,128.75) rotate(-90)" x="-0.63" y="0" font-size="11.8" fill="#000" stroke="#000" stroke-width="0.0" textLength="63.57" lengthAdjust="spacingAndGlyphs">separation</text>
<text transform="translate(320.60,62.15) rotate(-90)" x="-0.66" y="0" font-size="11.8" fill="#000" stroke="#000" stroke-width="0.0" textLength="51.41" lengthAdjust="spacingAndGlyphs">(arcmin)</text>
<text x="222.50" y="33.50" font-size="16.6" fill="#000" stroke="#000" stroke-width="0.05" textLength="37.42" lengthAdjust="spacingAndGlyphs">Near</text>
<text x="543.29" y="33.60" font-size="16.6" fill="#000" stroke="#000" stroke-width="0.05" textLength="25.93" lengthAdjust="spacingAndGlyphs">Far</text>
<text x="198.31" y="143.20" font-size="11.8" fill="#8652bf" stroke="#8652bf" stroke-width="0.0" textLength="63.67" lengthAdjust="spacingAndGlyphs">6.9 arcmin</text>
<text x="519.48" y="133.20" font-size="11.8" fill="#8652bf" stroke="#8652bf" stroke-width="0.0" textLength="63.89" lengthAdjust="spacingAndGlyphs">5.5 arcmin</text>
<defs><linearGradient id="gL" x1="0" y1="0" x2="0" y2="1"><stop offset="0.000" stop-color="#fee838"/><stop offset="0.050" stop-color="#f3db42"/><stop offset="0.100" stop-color="#e5cf52"/><stop offset="0.150" stop-color="#d6c35d"/><stop offset="0.200" stop-color="#c8b866"/><stop offset="0.250" stop-color="#bcae6c"/><stop offset="0.300" stop-color="#aea371"/><stop offset="0.350" stop-color="#a19975"/><stop offset="0.400" stop-color="#948e77"/><stop offset="0.450" stop-color="#888578"/><stop offset="0.500" stop-color="#7d7c78"/><stop offset="0.550" stop-color="#727274"/><stop offset="0.600" stop-color="#666970"/><stop offset="0.650" stop-color="#5b606e"/><stop offset="0.700" stop-color="#4f576c"/><stop offset="0.750" stop-color="#434e6c"/><stop offset="0.800" stop-color="#35456c"/><stop offset="0.850" stop-color="#243c6e"/><stop offset="0.900" stop-color="#083370"/><stop offset="0.950" stop-color="#002b62"/><stop offset="1.000" stop-color="#00224e"/></linearGradient></defs>
<rect x="271.50" y="13.60" width="7.10" height="199.90" fill="url(#gL)" stroke="#555" stroke-width="1.0"/>
<defs><linearGradient id="gR" x1="0" y1="0" x2="0" y2="1"><stop offset="0.000" stop-color="#fee838"/><stop offset="0.050" stop-color="#f3db42"/><stop offset="0.100" stop-color="#e5cf52"/><stop offset="0.150" stop-color="#d6c35d"/><stop offset="0.200" stop-color="#c8b866"/><stop offset="0.250" stop-color="#bcae6c"/><stop offset="0.300" stop-color="#aea371"/><stop offset="0.350" stop-color="#a19975"/><stop offset="0.400" stop-color="#948e77"/><stop offset="0.450" stop-color="#888578"/><stop offset="0.500" stop-color="#7d7c78"/><stop offset="0.550" stop-color="#727274"/><stop offset="0.600" stop-color="#666970"/><stop offset="0.650" stop-color="#5b606e"/><stop offset="0.700" stop-color="#4f576c"/><stop offset="0.750" stop-color="#434e6c"/><stop offset="0.800" stop-color="#35456c"/><stop offset="0.850" stop-color="#243c6e"/><stop offset="0.900" stop-color="#083370"/><stop offset="0.950" stop-color="#002b62"/><stop offset="1.000" stop-color="#00224e"/></linearGradient></defs>
<rect x="592.50" y="13.60" width="7.10" height="199.90" fill="url(#gR)" stroke="#555" stroke-width="1.0"/>
<line x1="278.60" y1="185.10" x2="281.80" y2="185.10" stroke="#444" stroke-width="0.9"/>
<text x="284.36" y="189.00" font-size="11.9" fill="#000" stroke="#000" stroke-width="0.1" textLength="16.20" lengthAdjust="spacingAndGlyphs">0.5</text>
<line x1="278.60" y1="154.92" x2="281.80" y2="154.92" stroke="#444" stroke-width="0.9"/>
<text x="283.66" y="158.82" font-size="11.9" fill="#000" stroke="#000" stroke-width="0.1" textLength="16.90" lengthAdjust="spacingAndGlyphs">1.0</text>
<line x1="278.60" y1="124.74" x2="281.80" y2="124.74" stroke="#444" stroke-width="0.9"/>
<text x="283.66" y="128.64" font-size="11.9" fill="#000" stroke="#000" stroke-width="0.1" textLength="16.92" lengthAdjust="spacingAndGlyphs">1.5</text>
<line x1="278.60" y1="94.56" x2="281.80" y2="94.56" stroke="#444" stroke-width="0.9"/>
<text x="284.28" y="98.46" font-size="11.9" fill="#000" stroke="#000" stroke-width="0.1" textLength="16.27" lengthAdjust="spacingAndGlyphs">2.0</text>
<line x1="278.60" y1="64.38" x2="281.80" y2="64.38" stroke="#444" stroke-width="0.9"/>
<text x="284.28" y="68.28" font-size="11.9" fill="#000" stroke="#000" stroke-width="0.1" textLength="16.28" lengthAdjust="spacingAndGlyphs">2.5</text>
<line x1="278.60" y1="34.20" x2="281.80" y2="34.20" stroke="#444" stroke-width="0.9"/>
<text x="284.23" y="38.10" font-size="11.9" fill="#000" stroke="#000" stroke-width="0.1" textLength="16.32" lengthAdjust="spacingAndGlyphs">3.0</text>
<line x1="599.60" y1="190.90" x2="602.80" y2="190.90" stroke="#444" stroke-width="0.9"/>
<text x="604.20" y="194.80" font-size="11.9" fill="#000" stroke="#000" stroke-width="0.1" textLength="7.67" lengthAdjust="spacingAndGlyphs">1</text>
<line x1="599.60" y1="167.01" x2="602.80" y2="167.01" stroke="#444" stroke-width="0.9"/>
<text x="604.96" y="170.91" font-size="11.9" fill="#000" stroke="#000" stroke-width="0.1" textLength="6.74" lengthAdjust="spacingAndGlyphs">2</text>
<line x1="599.60" y1="143.12" x2="602.80" y2="143.12" stroke="#444" stroke-width="0.9"/>
<text x="604.92" y="147.02" font-size="11.9" fill="#000" stroke="#000" stroke-width="0.1" textLength="6.54" lengthAdjust="spacingAndGlyphs">3</text>
<line x1="599.60" y1="119.23" x2="602.80" y2="119.23" stroke="#444" stroke-width="0.9"/>
<text x="605.32" y="123.13" font-size="11.9" fill="#000" stroke="#000" stroke-width="0.1" textLength="5.81" lengthAdjust="spacingAndGlyphs">4</text>
<line x1="599.60" y1="95.34" x2="602.80" y2="95.34" stroke="#444" stroke-width="0.9"/>
<text x="604.77" y="99.24" font-size="11.9" fill="#000" stroke="#000" stroke-width="0.1" textLength="6.70" lengthAdjust="spacingAndGlyphs">5</text>
<line x1="599.60" y1="71.45" x2="602.80" y2="71.45" stroke="#444" stroke-width="0.9"/>
<text x="605.01" y="75.35" font-size="11.9" fill="#000" stroke="#000" stroke-width="0.1" textLength="6.32" lengthAdjust="spacingAndGlyphs">6</text>
<line x1="599.60" y1="47.56" x2="602.80" y2="47.56" stroke="#444" stroke-width="0.9"/>
<text x="604.67" y="51.46" font-size="11.9" fill="#000" stroke="#000" stroke-width="0.1" textLength="6.66" lengthAdjust="spacingAndGlyphs">7</text>
<line x1="599.60" y1="23.67" x2="602.80" y2="23.67" stroke="#444" stroke-width="0.9"/>
<text x="605.06" y="27.57" font-size="11.9" fill="#000" stroke="#000" stroke-width="0.1" textLength="6.37" lengthAdjust="spacingAndGlyphs">8</text>
<text x="251.04" y="11.60" font-size="12.2" fill="#000" stroke="#000" stroke-width="0.0" textLength="27.65" lengthAdjust="spacingAndGlyphs">1e&#8722;3</text>
<text x="571.95" y="11.60" font-size="12.2" fill="#000" stroke="#000" stroke-width="0.0" textLength="27.33" lengthAdjust="spacingAndGlyphs">1e&#8722;3</text>
</g>
</svg>
</body></html>
